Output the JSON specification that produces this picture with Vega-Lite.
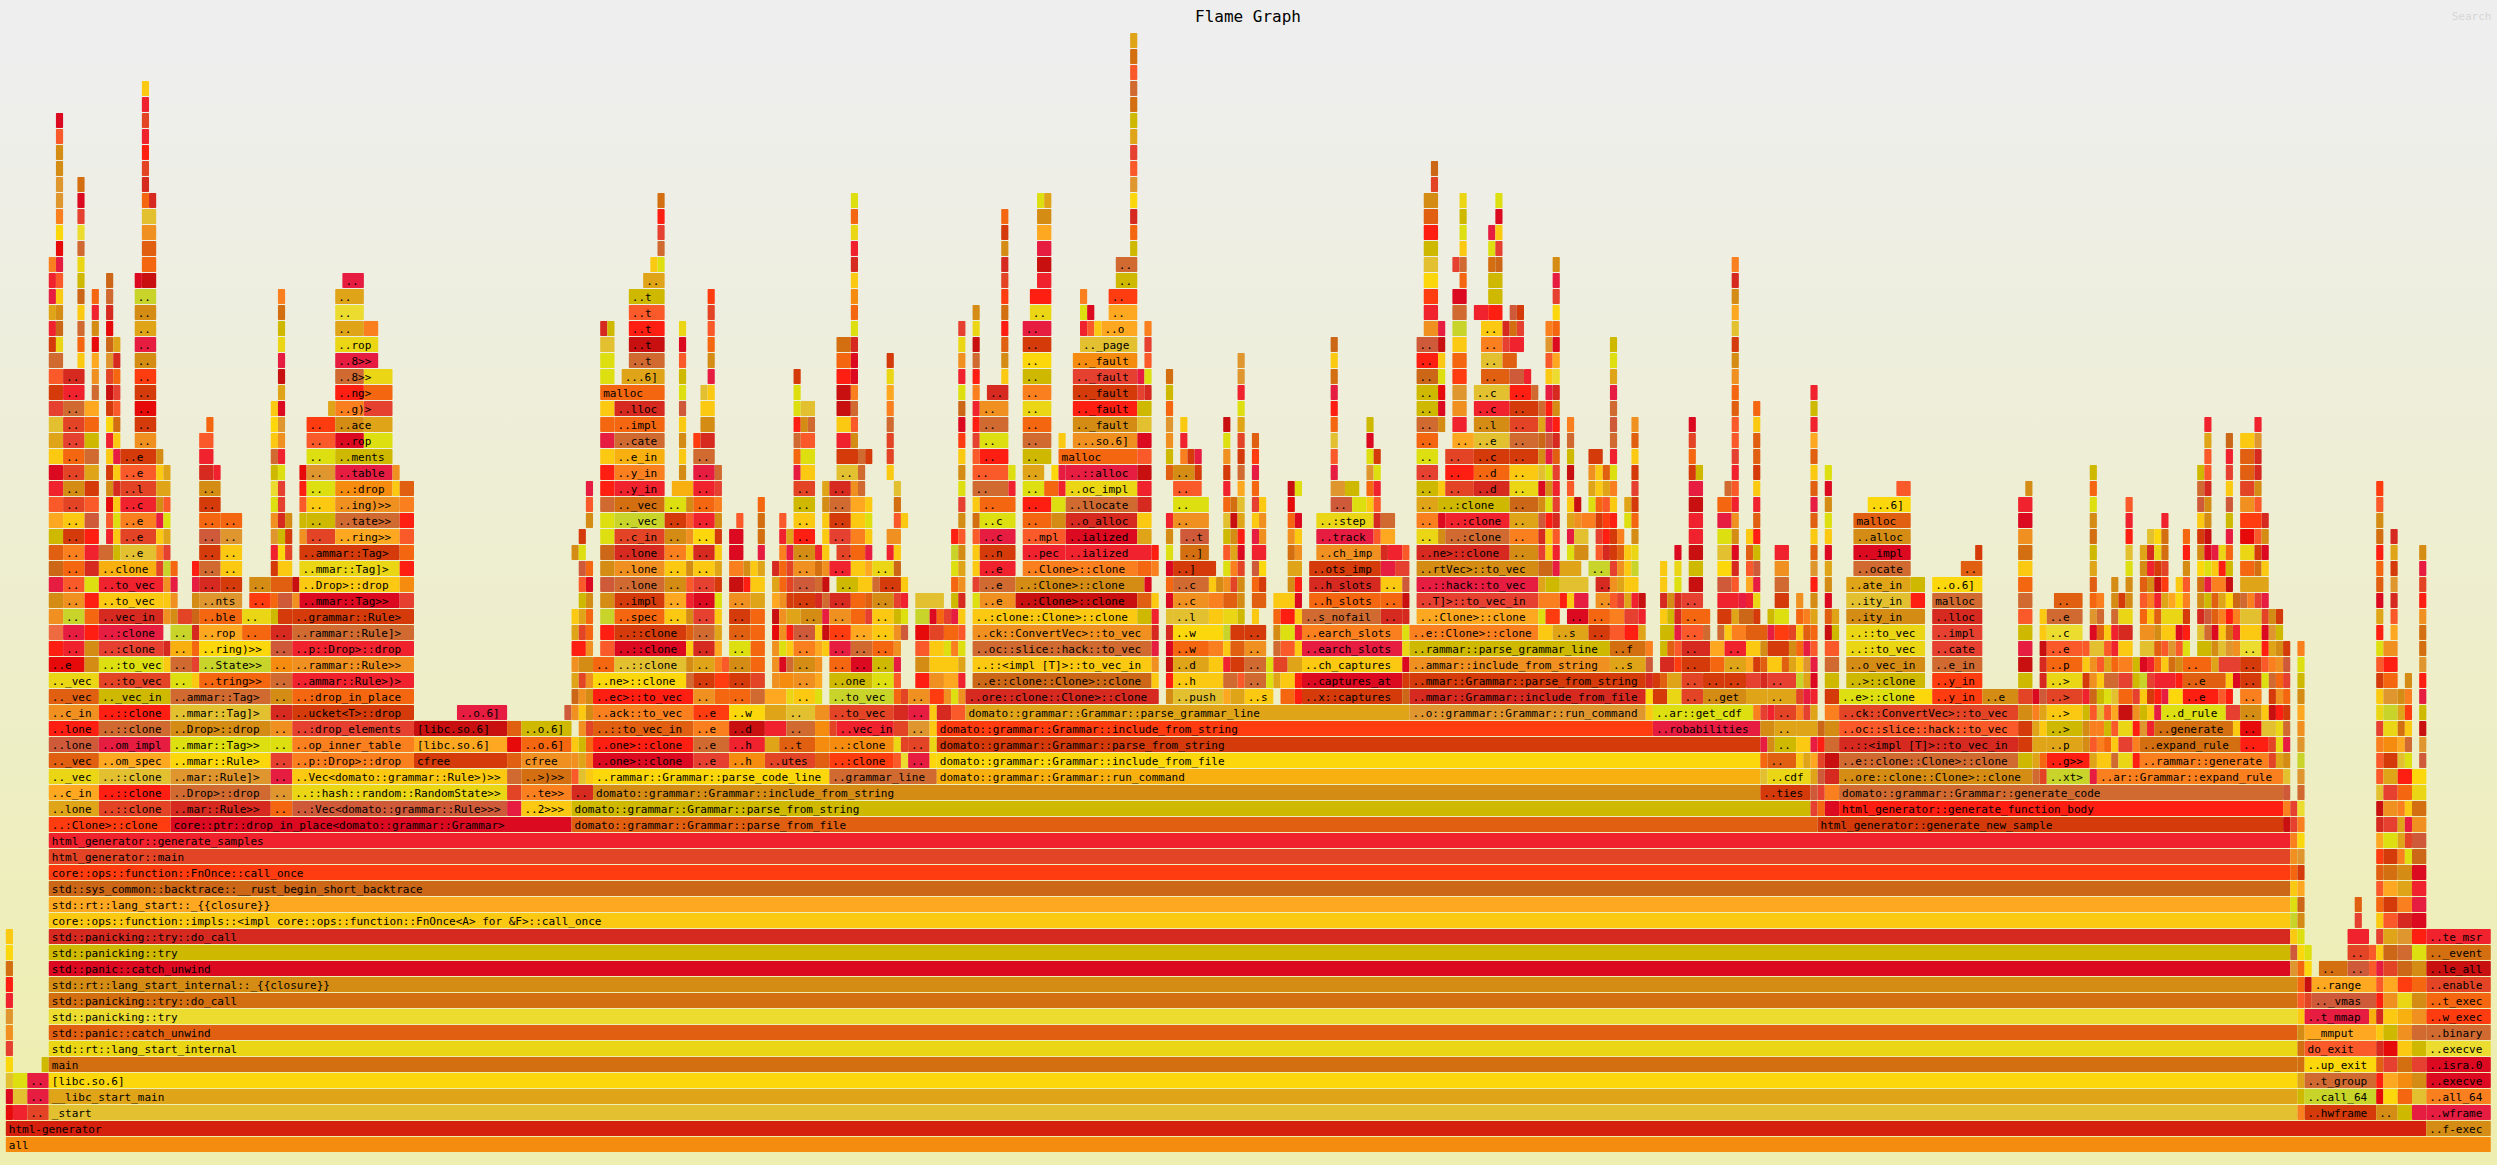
{"$schema":"https://vega.github.io/schema/vega-lite/v6.json","width":2497,"height":1165,"autosize":{"type":"fit","contains":"padding"},"padding":0,"background":"#eeeeee","config":{"view":{"stroke":null}},
"datasets":{"frames":[
{"l":0,"a":0,"b":347,"k":"A","n":"all"},{"l":1,"a":0,"b":338,"k":"B","n":"html-generator"},{"l":1,"a":338,"b":347,"k":"L","n":"..f-exec"},
{"l":2,"a":0,"b":1,"k":"g"},{"l":2,"a":1,"b":3,"k":"T"},{"l":2,"a":3,"b":6,"k":"S","n":".."},{"l":2,"a":6,"b":320,"k":"C","n":"_start"},{"l":2,"a":320,"b":321,"k":"W"},{"l":2,"a":321,"b":331,"k":"U","n":"..hwframe"},{"l":2,"a":331,"b":334,"k":"L","n":".."},{"l":2,"a":334,"b":336,"k":"K"},{"l":2,"a":336,"b":338,"k":"b"},{"l":2,"a":338,"b":347,"k":"b","n":"..wframe"},
{"l":3,"a":0,"b":1,"k":"M"},{"l":3,"a":1,"b":3,"k":"C"},{"l":3,"a":3,"b":6,"k":"b","n":".."},{"l":3,"a":6,"b":320,"k":"E","n":"__libc_start_main"},{"l":3,"a":320,"b":321,"k":"K"},{"l":3,"a":321,"b":331,"k":"c","n":"..call_64"},{"l":3,"a":331,"b":332,"k":"g"},{"l":3,"a":332,"b":334,"k":"F"},{"l":3,"a":334,"b":336,"k":"f"},{"l":3,"a":336,"b":338,"k":"C"},{"l":3,"a":338,"b":347,"k":"W","n":"..all_64"},
{"l":4,"a":0,"b":1,"k":"C"},{"l":4,"a":1,"b":3,"k":"X"},{"l":4,"a":3,"b":6,"k":"b","n":".."},{"l":4,"a":6,"b":320,"k":"F","n":"[libc.so.6]"},{"l":4,"a":320,"b":321,"k":"E"},{"l":4,"a":321,"b":331,"k":"d","n":"..t_group"},{"l":4,"a":331,"b":332,"k":"V"},{"l":4,"a":332,"b":334,"k":"P"},{"l":4,"a":334,"b":336,"k":"A"},{"l":4,"a":336,"b":338,"k":"L"},{"l":4,"a":338,"b":347,"k":"M","n":"..execve"},
{"l":5,"a":0,"b":1,"k":"F"},{"l":5,"a":5,"b":6,"k":"K"},{"l":5,"a":6,"b":320,"k":"G","n":"main"},{"l":5,"a":320,"b":321,"k":"G"},{"l":5,"a":321,"b":331,"k":"F","n":"..up_exit"},{"l":5,"a":331,"b":332,"k":"I"},{"l":5,"a":332,"b":334,"k":"Z"},{"l":5,"a":334,"b":336,"k":"G"},{"l":5,"a":336,"b":338,"k":"Z"},{"l":5,"a":338,"b":347,"k":"M","n":"..isra.0"},
{"l":6,"a":0,"b":1,"k":"Z"},{"l":6,"a":6,"b":320,"k":"H","n":"std::rt::lang_start_internal"},{"l":6,"a":320,"b":321,"k":"G"},{"l":6,"a":321,"b":331,"k":"Y","n":"do_exit"},{"l":6,"a":331,"b":332,"k":"N"},{"l":6,"a":332,"b":334,"k":"g"},{"l":6,"a":334,"b":336,"k":"O"},{"l":6,"a":336,"b":338,"k":"K"},{"l":6,"a":338,"b":347,"k":"J","n":"..execve"},
{"l":7,"a":0,"b":1,"k":"e"},{"l":7,"a":6,"b":320,"k":"I","n":"std::panic::catch_unwind"},{"l":7,"a":320,"b":321,"k":"L"},{"l":7,"a":321,"b":331,"k":"P","n":"__mmput"},{"l":7,"a":331,"b":332,"k":"O"},{"l":7,"a":332,"b":334,"k":"K"},{"l":7,"a":334,"b":336,"k":"e"},{"l":7,"a":336,"b":338,"k":"d"},{"l":7,"a":338,"b":347,"k":"d","n":"..binary"},
{"l":8,"a":0,"b":1,"k":"m"},{"l":8,"a":6,"b":320,"k":"J","n":"std::panicking::try"},{"l":8,"a":320,"b":321,"k":"O"},{"l":8,"a":321,"b":330,"k":"b","n":"..t_mmap"},{"l":8,"a":330,"b":331,"k":"i"},{"l":8,"a":331,"b":332,"k":"N"},{"l":8,"a":332,"b":334,"k":"O"},{"l":8,"a":334,"b":336,"k":"i"},{"l":8,"a":336,"b":338,"k":"e"},{"l":8,"a":338,"b":347,"k":"R","n":"..w_exec"},
{"l":9,"a":0,"b":1,"k":"T"},{"l":9,"a":6,"b":320,"k":"G","n":"std::panicking::try::do_call"},{"l":9,"a":320,"b":321,"k":"Y"},{"l":9,"a":321,"b":322,"k":"S"},{"l":9,"a":322,"b":331,"k":"a","n":".._vmas"},{"l":9,"a":331,"b":332,"k":"V"},{"l":9,"a":332,"b":334,"k":"e"},{"l":9,"a":334,"b":336,"k":"H"},{"l":9,"a":336,"b":338,"k":"L"},{"l":9,"a":338,"b":347,"k":"f","n":"..t_exec"},
{"l":10,"a":0,"b":1,"k":"V"},{"l":10,"a":6,"b":320,"k":"L","n":"std::rt::lang_start_internal::_{{closure}}"},{"l":10,"a":320,"b":321,"k":"f"},{"l":10,"a":321,"b":322,"k":"h"},{"l":10,"a":322,"b":331,"k":"P","n":"..range"},{"l":10,"a":331,"b":332,"k":"Y"},{"l":10,"a":332,"b":334,"k":"P"},{"l":10,"a":334,"b":336,"k":"R"},{"l":10,"a":336,"b":338,"k":"f"},{"l":10,"a":338,"b":347,"k":"S","n":"..enable"},
{"l":11,"a":0,"b":1,"k":"G"},{"l":11,"a":6,"b":319,"k":"M","n":"std::panic::catch_unwind"},{"l":11,"a":319,"b":320,"k":"m"},{"l":11,"a":320,"b":321,"k":"f"},{"l":11,"a":321,"b":322,"k":"F"},{"l":11,"a":323,"b":327,"k":"G","n":".."},{"l":11,"a":327,"b":330,"k":"a","n":".."},{"l":11,"a":330,"b":331,"k":"Y"},{"l":11,"a":331,"b":332,"k":"b"},{"l":11,"a":332,"b":334,"k":"S"},{"l":11,"a":334,"b":336,"k":"Q"},{"l":11,"a":336,"b":338,"k":"L"},{"l":11,"a":338,"b":347,"k":"h","n":"..le_all"},
{"l":12,"a":0,"b":1,"k":"F"},{"l":12,"a":6,"b":319,"k":"K","n":"std::panicking::try"},{"l":12,"a":319,"b":320,"k":"a"},{"l":12,"a":320,"b":321,"k":"F"},{"l":12,"a":321,"b":322,"k":"X"},{"l":12,"a":327,"b":330,"k":"S","n":".."},{"l":12,"a":330,"b":331,"k":"Y"},{"l":12,"a":331,"b":332,"k":"O"},{"l":12,"a":332,"b":334,"k":"Q"},{"l":12,"a":334,"b":336,"k":"d"},{"l":12,"a":336,"b":338,"k":"X"},{"l":12,"a":338,"b":347,"k":"G","n":".._event"},
{"l":13,"a":0,"b":1,"k":"O"},{"l":13,"a":6,"b":319,"k":"N","n":"std::panicking::try::do_call"},{"l":13,"a":319,"b":320,"k":"O"},{"l":13,"a":320,"b":321,"k":"X"},{"l":13,"a":327,"b":330,"k":"T"},{"l":13,"a":331,"b":332,"k":"Z"},{"l":13,"a":332,"b":334,"k":"E"},{"l":13,"a":334,"b":336,"k":"m"},{"l":13,"a":336,"b":338,"k":"V"},{"l":13,"a":338,"b":347,"k":"T","n":"..te_msr"},
{"l":14,"a":6,"b":319,"k":"O","n":"core::ops::function::impls::<impl core::ops::function::FnOnce<A> for &F>::call_once"},{"l":14,"a":319,"b":320,"k":"c"},{"l":14,"a":320,"b":321,"k":"L"},{"l":14,"a":328,"b":329,"k":"Z"},{"l":14,"a":331,"b":332,"k":"O"},{"l":14,"a":332,"b":334,"k":"Y"},{"l":14,"a":334,"b":336,"k":"N"},{"l":14,"a":336,"b":338,"k":"M"},
{"l":15,"a":6,"b":319,"k":"P","n":"std::rt::lang_start::_{{closure}}"},{"l":15,"a":319,"b":320,"k":"X"},{"l":15,"a":320,"b":321,"k":"Q"},{"l":15,"a":328,"b":329,"k":"I"},{"l":15,"a":331,"b":332,"k":"f"},{"l":15,"a":332,"b":334,"k":"U"},{"l":15,"a":334,"b":336,"k":"W"},{"l":15,"a":336,"b":338,"k":"b"},
{"l":16,"a":6,"b":319,"k":"Q","n":"std::sys_common::backtrace::__rust_begin_short_backtrace"},{"l":16,"a":319,"b":320,"k":"O"},{"l":16,"a":320,"b":321,"k":"P"},{"l":16,"a":331,"b":332,"k":"Y"},{"l":16,"a":332,"b":334,"k":"P"},{"l":16,"a":334,"b":336,"k":"E"},{"l":16,"a":336,"b":338,"k":"T"},
{"l":17,"a":6,"b":319,"k":"R","n":"core::ops::function::FnOnce::call_once"},{"l":17,"a":319,"b":320,"k":"f"},{"l":17,"a":320,"b":321,"k":"U"},{"l":17,"a":331,"b":332,"k":"I"},{"l":17,"a":332,"b":334,"k":"G"},{"l":17,"a":334,"b":336,"k":"L"},{"l":17,"a":336,"b":338,"k":"M"},
{"l":18,"a":6,"b":319,"k":"S","n":"html_generator::main"},{"l":18,"a":319,"b":320,"k":"e"},{"l":18,"a":320,"b":321,"k":"m"},{"l":18,"a":331,"b":332,"k":"R"},{"l":18,"a":332,"b":334,"k":"U"},{"l":18,"a":334,"b":335,"k":"W"},{"l":18,"a":335,"b":336,"k":"X"},{"l":18,"a":336,"b":338,"k":"Q"},
{"l":19,"a":6,"b":319,"k":"T","n":"html_generator::generate_samples"},{"l":19,"a":319,"b":320,"k":"W"},{"l":19,"a":320,"b":321,"k":"F"},{"l":19,"a":331,"b":332,"k":"P"},{"l":19,"a":332,"b":334,"k":"X"},{"l":19,"a":334,"b":335,"k":"E"},{"l":19,"a":335,"b":336,"k":"S"},{"l":19,"a":336,"b":338,"k":"a"},
{"l":20,"a":6,"b":23,"k":"R","n":"..:Clone>::clone"},{"l":20,"a":23,"b":79,"k":"M","n":"core::ptr::drop_in_place<domato::grammar::Grammar>"},{"l":20,"a":79,"b":253,"k":"I","n":"domato::grammar::Grammar::parse_from_file"},{"l":20,"a":253,"b":318,"k":"U","n":"html_generator::generate_new_sample"},{"l":20,"a":318,"b":319,"k":"h"},{"l":20,"a":319,"b":320,"k":"Z"},{"l":20,"a":320,"b":321,"k":"W"},{"l":20,"a":331,"b":332,"k":"N"},{"l":20,"a":332,"b":334,"k":"Z"},{"l":20,"a":334,"b":335,"k":"E"},{"l":20,"a":335,"b":336,"k":"b"},{"l":20,"a":336,"b":338,"k":"e"},
{"l":21,"a":6,"b":13,"k":"E","n":"..lone"},{"l":21,"a":13,"b":23,"k":"S","n":"..::clone"},{"l":21,"a":23,"b":37,"k":"N","n":"..mar::Rule>>"},{"l":21,"a":37,"b":40,"k":"f","n":".."},{"l":21,"a":40,"b":70,"k":"a","n":"..:Vec<domato::grammar::Rule>>>"},{"l":21,"a":70,"b":72,"k":"b"},{"l":21,"a":72,"b":79,"k":"O","n":"..2>>>"},{"l":21,"a":79,"b":252,"k":"K","n":"domato::grammar::Grammar::parse_from_string"},{"l":21,"a":252,"b":253,"k":"Z"},{"l":21,"a":253,"b":254,"k":"f"},{"l":21,"a":254,"b":256,"k":"M"},{"l":21,"a":256,"b":318,"k":"V","n":"html_generator::generate_function_body"},{"l":21,"a":318,"b":319,"k":"W"},{"l":21,"a":319,"b":320,"k":"Z"},{"l":21,"a":320,"b":321,"k":"J"},{"l":21,"a":331,"b":332,"k":"h"},{"l":21,"a":332,"b":334,"k":"e"},{"l":21,"a":334,"b":335,"k":"W"},{"l":21,"a":335,"b":336,"k":"O"},{"l":21,"a":336,"b":338,"k":"G"},
{"l":22,"a":6,"b":13,"k":"P","n":"..c_in"},{"l":22,"a":13,"b":23,"k":"V","n":"..::clone"},{"l":22,"a":23,"b":37,"k":"d","n":"..Drop>::drop"},{"l":22,"a":37,"b":40,"k":"m","n":".."},{"l":22,"a":40,"b":70,"k":"H","n":"..::hash::random::RandomState>>"},{"l":22,"a":70,"b":72,"k":"S"},{"l":22,"a":72,"b":79,"k":"W","n":"..te>>"},{"l":22,"a":79,"b":82,"k":"N","n":".."},{"l":22,"a":82,"b":245,"k":"L","n":"domato::grammar::Grammar::include_from_string"},{"l":22,"a":245,"b":252,"k":"U","n":"..ties"},{"l":22,"a":252,"b":253,"k":"a"},{"l":22,"a":253,"b":254,"k":"Z"},{"l":22,"a":254,"b":256,"k":"W"},{"l":22,"a":256,"b":318,"k":"d","n":"domato::grammar::Grammar::generate_code"},{"l":22,"a":318,"b":319,"k":"a"},{"l":22,"a":320,"b":321,"k":"d"},{"l":22,"a":331,"b":332,"k":"C"},{"l":22,"a":332,"b":334,"k":"Z"},{"l":22,"a":334,"b":336,"k":"f"},{"l":22,"a":336,"b":338,"k":"H"},
{"l":23,"a":6,"b":13,"k":"H","n":".._vec"},{"l":23,"a":13,"b":23,"k":"C","n":"..::clone"},{"l":23,"a":23,"b":37,"k":"m","n":"..mar::Rule]>"},{"l":23,"a":37,"b":40,"k":"b","n":".."},{"l":23,"a":40,"b":70,"k":"O","n":"..Vec<domato::grammar::Rule>)>>"},{"l":23,"a":70,"b":72,"k":"d"},{"l":23,"a":72,"b":79,"k":"G","n":"..>)>>"},{"l":23,"a":79,"b":80,"k":"Y"},{"l":23,"a":80,"b":81,"k":"C"},{"l":23,"a":81,"b":82,"k":"O"},{"l":23,"a":82,"b":115,"k":"F","n":"..rammar::Grammar::parse_code_line"},{"l":23,"a":115,"b":130,"k":"d","n":"..grammar_line"},{"l":23,"a":130,"b":245,"k":"i","n":"domato::grammar::Grammar::run_command"},{"l":23,"a":245,"b":246,"k":"C"},{"l":23,"a":246,"b":252,"k":"H","n":"..cdf"},{"l":23,"a":252,"b":253,"k":"E"},{"l":23,"a":253,"b":254,"k":"a"},{"l":23,"a":254,"b":256,"k":"N"},{"l":23,"a":256,"b":283,"k":"L","n":"..ore::clone::Clone>::clone"},{"l":23,"a":283,"b":284,"k":"d"},{"l":23,"a":284,"b":285,"k":"S"},{"l":23,"a":285,"b":291,"k":"c","n":"..xt>"},{"l":23,"a":291,"b":292,"k":"b"},{"l":23,"a":292,"b":318,"k":"W","n":"..ar::Grammar::expand_rule"},{"l":23,"a":318,"b":319,"k":"C"},{"l":23,"a":320,"b":321,"k":"m"},{"l":23,"a":331,"b":332,"k":"Y"},{"l":23,"a":332,"b":334,"k":"E"},{"l":23,"a":334,"b":336,"k":"V"},{"l":23,"a":336,"b":338,"k":"F"},
{"l":24,"a":6,"b":13,"k":"I","n":".._vec"},{"l":24,"a":13,"b":23,"k":"P","n":"..om_spec"},{"l":24,"a":23,"b":37,"k":"F","n":"..mmar::Rule>"},{"l":24,"a":37,"b":40,"k":"Z","n":".."},{"l":24,"a":40,"b":57,"k":"W","n":"..p::Drop>::drop"},{"l":24,"a":57,"b":70,"k":"U","n":"cfree"},{"l":24,"a":70,"b":72,"k":"I"},{"l":24,"a":72,"b":79,"k":"e","n":"cfree"},{"l":24,"a":79,"b":80,"k":"e"},{"l":24,"a":80,"b":81,"k":"E"},{"l":24,"a":81,"b":82,"k":"W"},{"l":24,"a":82,"b":96,"k":"M","n":"..one>::clone"},{"l":24,"a":96,"b":101,"k":"Z","n":"..e"},{"l":24,"a":101,"b":106,"k":"A","n":"..h"},{"l":24,"a":106,"b":113,"k":"S","n":"..utes"},{"l":24,"a":113,"b":115,"k":"I"},{"l":24,"a":115,"b":124,"k":"R","n":"..:clone"},{"l":24,"a":124,"b":125,"k":"Y"},{"l":24,"a":125,"b":126,"k":"J"},{"l":24,"a":126,"b":129,"k":"b","n":".."},{"l":24,"a":129,"b":130,"k":"F"},{"l":24,"a":130,"b":245,"k":"F","n":"domato::grammar::Grammar::include_from_file"},{"l":24,"a":245,"b":246,"k":"f"},{"l":24,"a":246,"b":250,"k":"I","n":".."},{"l":24,"a":250,"b":251,"k":"O"},{"l":24,"a":251,"b":252,"k":"E"},{"l":24,"a":252,"b":253,"k":"P"},{"l":24,"a":253,"b":254,"k":"S"},{"l":24,"a":254,"b":256,"k":"h"},{"l":24,"a":256,"b":281,"k":"d","n":"..e::clone::Clone>::clone"},{"l":24,"a":281,"b":283,"k":"K"},{"l":24,"a":283,"b":284,"k":"E"},{"l":24,"a":284,"b":285,"k":"f"},{"l":24,"a":285,"b":291,"k":"V","n":"..g>>"},{"l":24,"a":291,"b":292,"k":"E"},{"l":24,"a":292,"b":294,"k":"O"},{"l":24,"a":294,"b":295,"k":"d"},{"l":24,"a":295,"b":297,"k":"H"},{"l":24,"a":297,"b":298,"k":"V"},{"l":24,"a":298,"b":316,"k":"W","n":"..rammar::generate"},{"l":24,"a":316,"b":317,"k":"S"},{"l":24,"a":317,"b":318,"k":"E"},{"l":24,"a":318,"b":319,"k":"L"},{"l":24,"a":320,"b":321,"k":"c"},{"l":24,"a":331,"b":332,"k":"Y"},{"l":24,"a":332,"b":334,"k":"U"},{"l":24,"a":334,"b":335,"k":"C"},{"l":24,"a":335,"b":336,"k":"X"},{"l":24,"a":337,"b":338,"k":"a"},
{"l":25,"a":6,"b":13,"k":"a","n":"..lone"},{"l":25,"a":13,"b":23,"k":"b","n":"..om_impl"},{"l":25,"a":23,"b":37,"k":"X","n":"..mmar::Tag>>"},{"l":25,"a":37,"b":40,"k":"X","n":".."},{"l":25,"a":40,"b":57,"k":"W","n":"..op_inner_table"},{"l":25,"a":57,"b":70,"k":"P","n":"[libc.so.6]"},{"l":25,"a":70,"b":72,"k":"g"},{"l":25,"a":72,"b":79,"k":"f","n":"..o.6]"},{"l":25,"a":79,"b":80,"k":"O"},{"l":25,"a":80,"b":81,"k":"K"},{"l":25,"a":81,"b":82,"k":"f"},{"l":25,"a":82,"b":96,"k":"V","n":"..one>::clone"},{"l":25,"a":96,"b":101,"k":"d","n":"..e"},{"l":25,"a":101,"b":106,"k":"T","n":"..h"},{"l":25,"a":106,"b":108,"k":"E"},{"l":25,"a":108,"b":113,"k":"I","n":"..t"},{"l":25,"a":113,"b":115,"k":"A"},{"l":25,"a":115,"b":124,"k":"A","n":"..:clone"},{"l":25,"a":124,"b":125,"k":"H"},{"l":25,"a":125,"b":126,"k":"S"},{"l":25,"a":126,"b":129,"k":"S","n":".."},{"l":25,"a":129,"b":130,"k":"H"},{"l":25,"a":130,"b":245,"k":"U","n":"domato::grammar::Grammar::parse_from_string"},{"l":25,"a":245,"b":246,"k":"b"},{"l":25,"a":247,"b":250,"k":"K","n":".."},{"l":25,"a":246,"b":247,"k":"L"},{"l":25,"a":250,"b":252,"k":"O"},{"l":25,"a":252,"b":253,"k":"b"},{"l":25,"a":253,"b":254,"k":"V"},{"l":25,"a":254,"b":256,"k":"d"},{"l":25,"a":256,"b":281,"k":"N","n":"..::<impl [T]>::to_vec_in"},{"l":25,"a":281,"b":283,"k":"U"},{"l":25,"a":283,"b":285,"k":"E"},{"l":25,"a":285,"b":290,"k":"E","n":"..p"},{"l":25,"a":290,"b":291,"k":"L"},{"l":25,"a":291,"b":292,"k":"Y"},{"l":25,"a":292,"b":293,"k":"W"},{"l":25,"a":293,"b":294,"k":"f"},{"l":25,"a":294,"b":295,"k":"O"},{"l":25,"a":295,"b":297,"k":"Z"},{"l":25,"a":297,"b":298,"k":"W"},{"l":25,"a":298,"b":312,"k":"G","n":"..expand_rule"},{"l":25,"a":312,"b":316,"k":"V","n":".."},{"l":25,"a":316,"b":317,"k":"S"},{"l":25,"a":317,"b":318,"k":"H"},{"l":25,"a":318,"b":319,"k":"b"},{"l":25,"a":320,"b":321,"k":"m"},{"l":25,"a":331,"b":332,"k":"W"},{"l":25,"a":332,"b":334,"k":"A"},{"l":25,"a":334,"b":335,"k":"P"},{"l":25,"a":335,"b":336,"k":"d"},{"l":25,"a":337,"b":338,"k":"m"},
{"l":26,"a":6,"b":13,"k":"V","n":"..lone"},{"l":26,"a":13,"b":23,"k":"d","n":"..::clone"},{"l":26,"a":23,"b":37,"k":"L","n":"..Drop>::drop"},{"l":26,"a":37,"b":40,"k":"e","n":".."},{"l":26,"a":40,"b":57,"k":"Z","n":"..:drop_elements"},{"l":26,"a":57,"b":70,"k":"h","n":"[libc.so.6]"},{"l":26,"a":70,"b":72,"k":"I"},{"l":26,"a":72,"b":79,"k":"K","n":"..o.6]"},{"l":26,"a":80,"b":81,"k":"e"},{"l":26,"a":81,"b":82,"k":"S"},{"l":26,"a":82,"b":96,"k":"I","n":"..::to_vec_in"},{"l":26,"a":96,"b":101,"k":"W","n":"..e"},{"l":26,"a":101,"b":106,"k":"h","n":"..d"},{"l":26,"a":106,"b":109,"k":"T"},{"l":26,"a":109,"b":113,"k":"d","n":".."},{"l":26,"a":113,"b":115,"k":"A"},{"l":26,"a":115,"b":116,"k":"S"},{"l":26,"a":116,"b":124,"k":"T","n":"..vec_in"},{"l":26,"a":124,"b":126,"k":"S"},{"l":26,"a":126,"b":129,"k":"m","n":".."},{"l":26,"a":129,"b":130,"k":"O"},{"l":26,"a":130,"b":230,"k":"R","n":"domato::grammar::Grammar::include_from_string"},{"l":26,"a":230,"b":245,"k":"b","n":"..robabilities"},{"l":26,"a":245,"b":247,"k":"L"},{"l":26,"a":247,"b":250,"k":"E","n":".."},{"l":26,"a":250,"b":253,"k":"E"},{"l":26,"a":253,"b":254,"k":"Q"},{"l":26,"a":254,"b":256,"k":"L"},{"l":26,"a":256,"b":281,"k":"Y","n":"..oc::slice::hack::to_vec"},{"l":26,"a":281,"b":283,"k":"U"},{"l":26,"a":283,"b":284,"k":"E"},{"l":26,"a":284,"b":285,"k":"O"},{"l":26,"a":285,"b":290,"k":"K","n":"..>"},{"l":26,"a":290,"b":291,"k":"L"},{"l":26,"a":291,"b":292,"k":"W"},{"l":26,"a":292,"b":293,"k":"W"},{"l":26,"a":293,"b":294,"k":"K"},{"l":26,"a":294,"b":295,"k":"Y"},{"l":26,"a":295,"b":297,"k":"H"},{"l":26,"a":297,"b":298,"k":"V"},{"l":26,"a":298,"b":299,"k":"m"},{"l":26,"a":299,"b":300,"k":"T"},{"l":26,"a":300,"b":311,"k":"G","n":"..generate"},{"l":26,"a":311,"b":312,"k":"O"},{"l":26,"a":312,"b":315,"k":"g","n":".."},{"l":26,"a":315,"b":317,"k":"C"},{"l":26,"a":317,"b":318,"k":"H"},{"l":26,"a":318,"b":319,"k":"d"},{"l":26,"a":320,"b":321,"k":"e"},{"l":26,"a":331,"b":332,"k":"Z"},{"l":26,"a":332,"b":334,"k":"H"},{"l":26,"a":334,"b":335,"k":"G"},{"l":26,"a":335,"b":336,"k":"O"},{"l":26,"a":337,"b":338,"k":"h"},
{"l":27,"a":6,"b":13,"k":"e","n":"..c_in"},{"l":27,"a":13,"b":23,"k":"V","n":"..::clone"},{"l":27,"a":23,"b":37,"k":"C","n":"..mmar::Tag]>"},{"l":27,"a":37,"b":40,"k":"N","n":".."},{"l":27,"a":40,"b":57,"k":"U","n":"..ucket<T>::drop"},{"l":27,"a":63,"b":70,"k":"b","n":"..o.6]"},{"l":27,"a":78,"b":79,"k":"a"},{"l":27,"a":79,"b":80,"k":"e"},{"l":27,"a":80,"b":81,"k":"O"},{"l":27,"a":81,"b":82,"k":"L"},{"l":27,"a":82,"b":96,"k":"W","n":"..ack::to_vec"},{"l":27,"a":96,"b":101,"k":"R","n":"..e"},{"l":27,"a":101,"b":106,"k":"F","n":"..w"},{"l":27,"a":106,"b":109,"k":"E"},{"l":27,"a":109,"b":113,"k":"C","n":".."},{"l":27,"a":113,"b":115,"k":"e"},{"l":27,"a":115,"b":124,"k":"S","n":"..to_vec"},{"l":27,"a":124,"b":126,"k":"N"},{"l":27,"a":126,"b":129,"k":"b","n":".."},{"l":27,"a":129,"b":130,"k":"O"},{"l":27,"a":130,"b":132,"k":"N"},{"l":27,"a":132,"b":134,"k":"Y"},{"l":27,"a":134,"b":196,"k":"E","n":"domato::grammar::Grammar::parse_grammar_line"},{"l":27,"a":196,"b":229,"k":"m","n":"..o::grammar::Grammar::run_command"},{"l":27,"a":229,"b":230,"k":"O"},{"l":27,"a":230,"b":244,"k":"X","n":"..ar::get_cdf"},{"l":27,"a":244,"b":245,"k":"W"},{"l":27,"a":245,"b":246,"k":"Z"},{"l":27,"a":246,"b":247,"k":"T"},{"l":27,"a":247,"b":250,"k":"S","n":".."},{"l":27,"a":250,"b":251,"k":"W"},{"l":27,"a":251,"b":252,"k":"Z"},{"l":27,"a":252,"b":253,"k":"E"},{"l":27,"a":254,"b":256,"k":"W"},{"l":27,"a":256,"b":281,"k":"S","n":"..ck::ConvertVec>::to_vec"},{"l":27,"a":281,"b":283,"k":"L"},{"l":27,"a":283,"b":284,"k":"W"},{"l":27,"a":284,"b":285,"k":"E"},{"l":27,"a":285,"b":290,"k":"O","n":"..>"},{"l":27,"a":290,"b":291,"k":"K"},{"l":27,"a":291,"b":292,"k":"Y"},{"l":27,"a":292,"b":293,"k":"C"},{"l":27,"a":293,"b":294,"k":"Y"},{"l":27,"a":294,"b":295,"k":"P"},{"l":27,"a":295,"b":297,"k":"h"},{"l":27,"a":297,"b":298,"k":"e"},{"l":27,"a":298,"b":299,"k":"K"},{"l":27,"a":299,"b":300,"k":"O"},{"l":27,"a":300,"b":301,"k":"b"},{"l":27,"a":301,"b":310,"k":"X","n":"..d_rule"},{"l":27,"a":310,"b":312,"k":"Z"},{"l":27,"a":312,"b":315,"k":"L","n":".."},{"l":27,"a":315,"b":316,"k":"O"},{"l":27,"a":316,"b":317,"k":"h"},{"l":27,"a":317,"b":318,"k":"V"},{"l":27,"a":318,"b":319,"k":"U"},{"l":27,"a":320,"b":321,"k":"P"},{"l":27,"a":331,"b":332,"k":"H"},{"l":27,"a":332,"b":334,"k":"c"},{"l":27,"a":334,"b":335,"k":"E"},{"l":27,"a":335,"b":336,"k":"R"},{"l":27,"a":337,"b":338,"k":"K"},
{"l":28,"a":6,"b":13,"k":"I","n":".._vec"},{"l":28,"a":13,"b":23,"k":"K","n":".._vec_in"},{"l":28,"a":23,"b":37,"k":"d","n":"..ammar::Tag>"},{"l":28,"a":37,"b":40,"k":"L","n":".."},{"l":28,"a":40,"b":57,"k":"f","n":"..:drop_in_place"},{"l":28,"a":79,"b":80,"k":"Q"},{"l":28,"a":80,"b":81,"k":"e"},{"l":28,"a":81,"b":82,"k":"L"},{"l":28,"a":82,"b":96,"k":"V","n":"..ec>::to_vec"},{"l":28,"a":96,"b":99,"k":"e","n":".."},{"l":28,"a":99,"b":101,"k":"f"},{"l":28,"a":101,"b":104,"k":"f","n":".."},{"l":28,"a":104,"b":106,"k":"d"},{"l":28,"a":106,"b":109,"k":"P"},{"l":28,"a":109,"b":110,"k":"H"},{"l":28,"a":110,"b":113,"k":"O","n":".."},{"l":28,"a":113,"b":114,"k":"X"},{"l":28,"a":115,"b":124,"k":"c","n":"..to_vec"},{"l":28,"a":124,"b":125,"k":"f"},{"l":28,"a":125,"b":126,"k":"S"},{"l":28,"a":126,"b":129,"k":"e","n":".."},{"l":28,"a":129,"b":131,"k":"R"},{"l":28,"a":131,"b":132,"k":"e"},{"l":28,"a":132,"b":133,"k":"X"},{"l":28,"a":133,"b":134,"k":"e"},{"l":28,"a":134,"b":161,"k":"N","n":"..ore::clone::Clone>::clone"},{"l":28,"a":162,"b":163,"k":"L"},{"l":28,"a":163,"b":170,"k":"C","n":"..push"},{"l":28,"a":170,"b":171,"k":"P"},{"l":28,"a":171,"b":173,"k":"E"},{"l":28,"a":173,"b":177,"k":"O","n":"..s"},{"l":28,"a":178,"b":180,"k":"f"},{"l":28,"a":180,"b":181,"k":"V"},{"l":28,"a":181,"b":195,"k":"U","n":"..x::captures"},{"l":28,"a":195,"b":196,"k":"Q"},{"l":28,"a":196,"b":229,"k":"N","n":"..mmar::Grammar::include_from_file"},{"l":28,"a":229,"b":230,"k":"F"},{"l":28,"a":230,"b":232,"k":"U"},{"l":28,"a":232,"b":234,"k":"H"},{"l":28,"a":234,"b":237,"k":"S","n":".."},{"l":28,"a":237,"b":243,"k":"L","n":"..get"},{"l":28,"a":243,"b":246,"k":"E"},{"l":28,"a":246,"b":250,"k":"E","n":".."},{"l":28,"a":250,"b":251,"k":"S"},{"l":28,"a":251,"b":252,"k":"b"},{"l":28,"a":252,"b":253,"k":"T"},{"l":28,"a":254,"b":256,"k":"U"},{"l":28,"a":256,"b":266,"k":"X","n":"..e>::clone"},{"l":28,"a":266,"b":269,"k":"F"},{"l":28,"a":269,"b":276,"k":"R","n":"..y_in"},{"l":28,"a":276,"b":281,"k":"L","n":"..e"},{"l":28,"a":281,"b":283,"k":"S"},{"l":28,"a":283,"b":284,"k":"M"},{"l":28,"a":284,"b":285,"k":"a"},{"l":28,"a":285,"b":290,"k":"S","n":"..>"},{"l":28,"a":290,"b":291,"k":"T"},{"l":28,"a":291,"b":292,"k":"Q"},{"l":28,"a":292,"b":293,"k":"K"},{"l":28,"a":293,"b":294,"k":"X"},{"l":28,"a":294,"b":295,"k":"C"},{"l":28,"a":295,"b":297,"k":"f"},{"l":28,"a":297,"b":298,"k":"Z"},{"l":28,"a":298,"b":299,"k":"O"},{"l":28,"a":299,"b":300,"k":"U"},{"l":28,"a":300,"b":301,"k":"V"},{"l":28,"a":301,"b":302,"k":"b"},{"l":28,"a":302,"b":304,"k":"F"},{"l":28,"a":304,"b":309,"k":"V","n":"..e"},{"l":28,"a":309,"b":310,"k":"Y"},{"l":28,"a":310,"b":311,"k":"V"},{"l":28,"a":312,"b":315,"k":"W","n":".."},{"l":28,"a":316,"b":317,"k":"U"},{"l":28,"a":317,"b":318,"k":"e"},{"l":28,"a":318,"b":319,"k":"f"},{"l":28,"a":320,"b":321,"k":"L"},{"l":28,"a":331,"b":332,"k":"O"},{"l":28,"a":332,"b":334,"k":"m"},{"l":28,"a":334,"b":335,"k":"L"},{"l":28,"a":335,"b":336,"k":"W"},{"l":28,"a":337,"b":338,"k":"b"},
{"l":29,"a":6,"b":13,"k":"H","n":".._vec"},{"l":29,"a":13,"b":23,"k":"S","n":"..:to_vec"},{"l":29,"a":23,"b":26,"k":"X","n":".."},{"l":29,"a":26,"b":27,"k":"O"},{"l":29,"a":27,"b":37,"k":"f","n":"..tring>>"},{"l":29,"a":37,"b":40,"k":"d","n":".."},{"l":29,"a":40,"b":57,"k":"T","n":"..ammar::Rule>)>"},{"l":29,"a":79,"b":80,"k":"E"},{"l":29,"a":80,"b":81,"k":"S"},{"l":29,"a":81,"b":82,"k":"e"},{"l":29,"a":82,"b":95,"k":"F","n":"..ne>::clone"},{"l":29,"a":95,"b":96,"k":"d"},{"l":29,"a":96,"b":99,"k":"U","n":".."},{"l":29,"a":99,"b":101,"k":"R"},{"l":29,"a":101,"b":104,"k":"U","n":".."},{"l":29,"a":104,"b":106,"k":"S"},{"l":29,"a":107,"b":108,"k":"e"},{"l":29,"a":108,"b":110,"k":"A"},{"l":29,"a":110,"b":113,"k":"e","n":".."},{"l":29,"a":113,"b":114,"k":"P"},{"l":29,"a":115,"b":121,"k":"K","n":"..one"},{"l":29,"a":121,"b":124,"k":"X","n":".."},{"l":29,"a":124,"b":125,"k":"Y"},{"l":29,"a":127,"b":129,"k":"V"},{"l":29,"a":129,"b":131,"k":"e"},{"l":29,"a":131,"b":133,"k":"P"},{"l":29,"a":133,"b":134,"k":"T"},{"l":29,"a":135,"b":160,"k":"Q","n":"..e::clone::Clone>::clone"},{"l":29,"a":160,"b":161,"k":"O"},{"l":29,"a":162,"b":163,"k":"V"},{"l":29,"a":163,"b":170,"k":"O","n":"..h"},{"l":29,"a":170,"b":172,"k":"d"},{"l":29,"a":172,"b":173,"k":"Y"},{"l":29,"a":173,"b":176,"k":"d","n":".."},{"l":29,"a":176,"b":177,"k":"X"},{"l":29,"a":177,"b":178,"k":"E"},{"l":29,"a":178,"b":180,"k":"O"},{"l":29,"a":180,"b":181,"k":"V"},{"l":29,"a":181,"b":195,"k":"M","n":"..captures_at"},{"l":29,"a":195,"b":196,"k":"U"},{"l":29,"a":196,"b":229,"k":"U","n":"..mmar::Grammar::parse_from_string"},{"l":29,"a":229,"b":230,"k":"N"},{"l":29,"a":230,"b":231,"k":"U"},{"l":29,"a":231,"b":232,"k":"I"},{"l":29,"a":232,"b":234,"k":"E"},{"l":29,"a":234,"b":237,"k":"S","n":".."},{"l":29,"a":237,"b":240,"k":"U","n":".."},{"l":29,"a":240,"b":243,"k":"U","n":".."},{"l":29,"a":243,"b":245,"k":"Z"},{"l":29,"a":245,"b":246,"k":"N"},{"l":29,"a":246,"b":250,"k":"Z","n":".."},{"l":29,"a":250,"b":251,"k":"c"},{"l":29,"a":251,"b":252,"k":"E"},{"l":29,"a":252,"b":253,"k":"M"},{"l":29,"a":254,"b":256,"k":"K"},{"l":29,"a":257,"b":268,"k":"K","n":"..>::clone"},{"l":29,"a":269,"b":276,"k":"R","n":"..y_in"},{"l":29,"a":281,"b":283,"k":"K"},{"l":29,"a":284,"b":285,"k":"N"},{"l":29,"a":285,"b":290,"k":"H","n":"..>"},{"l":29,"a":290,"b":291,"k":"U"},{"l":29,"a":291,"b":292,"k":"e"},{"l":29,"a":292,"b":293,"k":"O"},{"l":29,"a":293,"b":295,"k":"d"},{"l":29,"a":295,"b":297,"k":"Z"},{"l":29,"a":297,"b":298,"k":"K"},{"l":29,"a":298,"b":299,"k":"c"},{"l":29,"a":299,"b":300,"k":"Z"},{"l":29,"a":300,"b":303,"k":"T"},{"l":29,"a":303,"b":304,"k":"V"},{"l":29,"a":304,"b":310,"k":"I","n":"..e"},{"l":29,"a":310,"b":311,"k":"O"},{"l":29,"a":311,"b":312,"k":"M"},{"l":29,"a":312,"b":315,"k":"U","n":".."},{"l":29,"a":315,"b":316,"k":"X"},{"l":29,"a":316,"b":317,"k":"d"},{"l":29,"a":317,"b":318,"k":"f"},{"l":29,"a":318,"b":319,"k":"Z"},{"l":29,"a":320,"b":321,"k":"K"},{"l":29,"a":331,"b":332,"k":"U"},{"l":29,"a":332,"b":334,"k":"f"},{"l":29,"a":335,"b":336,"k":"L"},{"l":29,"a":337,"b":338,"k":"V"},
{"l":30,"a":6,"b":11,"k":"g","n":"..e"},{"l":30,"a":11,"b":13,"k":"L"},{"l":30,"a":13,"b":22,"k":"X","n":"..:to_vec"},{"l":30,"a":22,"b":23,"k":"O"},{"l":30,"a":23,"b":26,"k":"d","n":".."},{"l":30,"a":26,"b":27,"k":"Z"},{"l":30,"a":27,"b":37,"k":"c","n":"..State>>"},{"l":30,"a":37,"b":40,"k":"A","n":".."},{"l":30,"a":40,"b":57,"k":"e","n":"..rammar::Rule>>"},{"l":30,"a":79,"b":80,"k":"e"},{"l":30,"a":80,"b":82,"k":"L"},{"l":30,"a":82,"b":85,"k":"f","n":".."},{"l":30,"a":85,"b":95,"k":"C","n":"..::clone"},{"l":30,"a":95,"b":96,"k":"L"},{"l":30,"a":96,"b":99,"k":"E","n":".."},{"l":30,"a":99,"b":100,"k":"W"},{"l":30,"a":100,"b":101,"k":"Y"},{"l":30,"a":101,"b":104,"k":"L","n":".."},{"l":30,"a":104,"b":106,"k":"f"},{"l":30,"a":107,"b":108,"k":"e"},{"l":30,"a":108,"b":109,"k":"M"},{"l":30,"a":109,"b":110,"k":"d"},{"l":30,"a":110,"b":113,"k":"L","n":".."},{"l":30,"a":113,"b":114,"k":"e"},{"l":30,"a":115,"b":118,"k":"f","n":".."},{"l":30,"a":118,"b":121,"k":"M","n":".."},{"l":30,"a":121,"b":124,"k":"K","n":".."},{"l":30,"a":124,"b":125,"k":"b"},{"l":30,"a":127,"b":129,"k":"L"},{"l":30,"a":129,"b":133,"k":"O"},{"l":30,"a":133,"b":134,"k":"E"},{"l":30,"a":135,"b":160,"k":"O","n":"..::<impl [T]>::to_vec_in"},{"l":30,"a":160,"b":161,"k":"e"},{"l":30,"a":162,"b":163,"k":"h"},{"l":30,"a":163,"b":168,"k":"E","n":"..d"},{"l":30,"a":168,"b":170,"k":"O"},{"l":30,"a":170,"b":171,"k":"T"},{"l":30,"a":171,"b":173,"k":"U"},{"l":30,"a":173,"b":176,"k":"d","n":".."},{"l":30,"a":176,"b":177,"k":"X"},{"l":30,"a":177,"b":179,"k":"S"},{"l":30,"a":179,"b":181,"k":"E"},{"l":30,"a":181,"b":195,"k":"O","n":"..ch_captures"},{"l":30,"a":195,"b":196,"k":"M"},{"l":30,"a":196,"b":224,"k":"e","n":"..ammar::include_from_string"},{"l":30,"a":224,"b":229,"k":"E","n":"..s"},{"l":30,"a":229,"b":230,"k":"a"},{"l":30,"a":231,"b":233,"k":"N"},{"l":30,"a":233,"b":234,"k":"R"},{"l":30,"a":234,"b":238,"k":"U","n":".."},{"l":30,"a":238,"b":240,"k":"f"},{"l":30,"a":240,"b":243,"k":"E","n":".."},{"l":30,"a":243,"b":244,"k":"P"},{"l":30,"a":244,"b":245,"k":"U"},{"l":30,"a":245,"b":246,"k":"I"},{"l":30,"a":246,"b":248,"k":"O"},{"l":30,"a":248,"b":249,"k":"I"},{"l":30,"a":249,"b":250,"k":"E"},{"l":30,"a":250,"b":251,"k":"O"},{"l":30,"a":251,"b":252,"k":"m"},{"l":30,"a":252,"b":253,"k":"b"},{"l":30,"a":254,"b":256,"k":"d"},{"l":30,"a":257,"b":268,"k":"L","n":"..o_vec_in"},{"l":30,"a":269,"b":276,"k":"d","n":"..e_in"},{"l":30,"a":281,"b":283,"k":"h"},{"l":30,"a":284,"b":285,"k":"N"},{"l":30,"a":285,"b":290,"k":"f","n":"..p"},{"l":30,"a":290,"b":291,"k":"O"},{"l":30,"a":291,"b":292,"k":"e"},{"l":30,"a":292,"b":293,"k":"Y"},{"l":30,"a":293,"b":294,"k":"E"},{"l":30,"a":294,"b":295,"k":"f"},{"l":30,"a":295,"b":297,"k":"W"},{"l":30,"a":297,"b":298,"k":"K"},{"l":30,"a":298,"b":299,"k":"M"},{"l":30,"a":299,"b":300,"k":"T"},{"l":30,"a":300,"b":301,"k":"f"},{"l":30,"a":301,"b":302,"k":"O"},{"l":30,"a":302,"b":303,"k":"G"},{"l":30,"a":303,"b":304,"k":"L"},{"l":30,"a":304,"b":308,"k":"f","n":".."},{"l":30,"a":308,"b":309,"k":"E"},{"l":30,"a":309,"b":312,"k":"Z"},{"l":30,"a":312,"b":315,"k":"U","n":".."},{"l":30,"a":315,"b":316,"k":"Y"},{"l":30,"a":316,"b":317,"k":"W"},{"l":30,"a":317,"b":318,"k":"e"},{"l":30,"a":318,"b":319,"k":"a"},{"l":30,"a":320,"b":321,"k":"X"},{"l":30,"a":331,"b":332,"k":"Y"},{"l":30,"a":332,"b":334,"k":"V"},{"l":30,"a":337,"b":338,"k":"m"},
{"l":31,"a":6,"b":8,"k":"V"},{"l":31,"a":8,"b":11,"k":"T","n":".."},{"l":31,"a":11,"b":13,"k":"L"},{"l":31,"a":13,"b":22,"k":"Z","n":"..:clone"},{"l":31,"a":22,"b":23,"k":"N"},{"l":31,"a":23,"b":26,"k":"i","n":".."},{"l":31,"a":26,"b":27,"k":"f"},{"l":31,"a":27,"b":37,"k":"F","n":"..ring)>>"},{"l":31,"a":37,"b":40,"k":"a","n":".."},{"l":31,"a":40,"b":57,"k":"T","n":"..p::Drop>::drop"},{"l":31,"a":79,"b":81,"k":"V"},{"l":31,"a":81,"b":82,"k":"e"},{"l":31,"a":83,"b":85,"k":"Y"},{"l":31,"a":85,"b":95,"k":"M","n":"..::clone"},{"l":31,"a":95,"b":96,"k":"O"},{"l":31,"a":96,"b":99,"k":"N","n":".."},{"l":31,"a":99,"b":100,"k":"P"},{"l":31,"a":101,"b":104,"k":"X","n":".."},{"l":31,"a":104,"b":106,"k":"f"},{"l":31,"a":107,"b":108,"k":"e"},{"l":31,"a":108,"b":109,"k":"X"},{"l":31,"a":109,"b":110,"k":"O"},{"l":31,"a":110,"b":113,"k":"W","n":".."},{"l":31,"a":113,"b":114,"k":"P"},{"l":31,"a":114,"b":115,"k":"O"},{"l":31,"a":115,"b":118,"k":"b","n":".."},{"l":31,"a":118,"b":121,"k":"d","n":".."},{"l":31,"a":121,"b":124,"k":"f","n":".."},{"l":31,"a":124,"b":125,"k":"e"},{"l":31,"a":127,"b":129,"k":"Y"},{"l":31,"a":129,"b":131,"k":"O"},{"l":31,"a":131,"b":132,"k":"X"},{"l":31,"a":132,"b":133,"k":"W"},{"l":31,"a":133,"b":134,"k":"X"},{"l":31,"a":135,"b":160,"k":"d","n":"..oc::slice::hack::to_vec"},{"l":31,"a":160,"b":161,"k":"b"},{"l":31,"a":162,"b":163,"k":"M"},{"l":31,"a":163,"b":168,"k":"f","n":"..w"},{"l":31,"a":168,"b":170,"k":"W"},{"l":31,"a":170,"b":171,"k":"O"},{"l":31,"a":171,"b":173,"k":"I"},{"l":31,"a":173,"b":176,"k":"e","n":".."},{"l":31,"a":177,"b":178,"k":"d"},{"l":31,"a":178,"b":180,"k":"Y"},{"l":31,"a":180,"b":181,"k":"O"},{"l":31,"a":181,"b":195,"k":"b","n":"..earch_slots"},{"l":31,"a":195,"b":196,"k":"H"},{"l":31,"a":196,"b":224,"k":"K","n":"..rammar::parse_grammar_line"},{"l":31,"a":224,"b":229,"k":"G","n":"..f"},{"l":31,"a":229,"b":230,"k":"W"},{"l":31,"a":231,"b":232,"k":"K"},{"l":31,"a":232,"b":233,"k":"I"},{"l":31,"a":233,"b":234,"k":"Y"},{"l":31,"a":234,"b":238,"k":"N","n":".."},{"l":31,"a":238,"b":240,"k":"P"},{"l":31,"a":240,"b":243,"k":"T","n":".."},{"l":31,"a":243,"b":245,"k":"O"},{"l":31,"a":245,"b":246,"k":"L"},{"l":31,"a":246,"b":249,"k":"U"},{"l":31,"a":249,"b":250,"k":"L"},{"l":31,"a":250,"b":251,"k":"f"},{"l":31,"a":251,"b":252,"k":"b"},{"l":31,"a":252,"b":253,"k":"Y"},{"l":31,"a":254,"b":256,"k":"Y"},{"l":31,"a":257,"b":268,"k":"H","n":"..::to_vec"},{"l":31,"a":269,"b":276,"k":"Z","n":"..cate"},{"l":31,"a":281,"b":283,"k":"b"},{"l":31,"a":284,"b":285,"k":"h"},{"l":31,"a":285,"b":290,"k":"Y","n":"..e"},{"l":31,"a":290,"b":291,"k":"Y"},{"l":31,"a":291,"b":293,"k":"C"},{"l":31,"a":293,"b":294,"k":"Y"},{"l":31,"a":294,"b":295,"k":"T"},{"l":31,"a":295,"b":297,"k":"O"},{"l":31,"a":298,"b":300,"k":"C"},{"l":31,"a":300,"b":301,"k":"I"},{"l":31,"a":301,"b":302,"k":"Y"},{"l":31,"a":302,"b":303,"k":"m"},{"l":31,"a":303,"b":304,"k":"Y"},{"l":31,"a":304,"b":305,"k":"X"},{"l":31,"a":306,"b":308,"k":"K"},{"l":31,"a":308,"b":309,"k":"L"},{"l":31,"a":309,"b":310,"k":"C"},{"l":31,"a":310,"b":311,"k":"m"},{"l":31,"a":311,"b":312,"k":"e"},{"l":31,"a":312,"b":315,"k":"J","n":".."},{"l":31,"a":315,"b":316,"k":"V"},{"l":31,"a":316,"b":317,"k":"E"},{"l":31,"a":317,"b":318,"k":"L"},{"l":31,"a":318,"b":319,"k":"U"},{"l":31,"a":320,"b":321,"k":"W"},{"l":31,"a":331,"b":332,"k":"X"},{"l":31,"a":332,"b":334,"k":"e"},{"l":31,"a":337,"b":338,"k":"G"}
,{"l":32,"a":6,"b":8,"k":"s"},{"l":32,"a":8,"b":11,"k":"b","n":".."},{"l":32,"a":11,"b":13,"k":"V"},{"l":32,"a":13,"b":22,"k":"b","n":"..:clone"},{"l":32,"a":23,"b":26,"k":"c","n":".."},{"l":32,"a":26,"b":27,"k":"N"},{"l":32,"a":27,"b":33,"k":"P","n":"..rop"},{"l":32,"a":33,"b":37,"k":"f","n":".."},{"l":32,"a":37,"b":40,"k":"N","n":".."},{"l":32,"a":40,"b":57,"k":"d","n":"..rammar::Rule]>"},{"l":32,"a":79,"b":80,"k":"E"},{"l":32,"a":80,"b":81,"k":"S"},{"l":32,"a":81,"b":82,"k":"f"},{"l":32,"a":83,"b":85,"k":"V"},{"l":32,"a":85,"b":95,"k":"U","n":"..::clone"},{"l":32,"a":95,"b":96,"k":"I"},{"l":32,"a":96,"b":99,"k":"d","n":".."},{"l":32,"a":99,"b":100,"k":"E"},{"l":32,"a":101,"b":104,"k":"I","n":".."},{"l":32,"a":104,"b":106,"k":"f"},{"l":32,"a":107,"b":108,"k":"g"},{"l":32,"a":108,"b":109,"k":"e"},{"l":32,"a":109,"b":110,"k":"V"},{"l":32,"a":110,"b":113,"k":"a","n":".."},{"l":32,"a":113,"b":114,"k":"O"},{"l":32,"a":114,"b":115,"k":"h"},{"l":32,"a":115,"b":118,"k":"R","n":".."},{"l":32,"a":118,"b":121,"k":"P","n":".."},{"l":32,"a":121,"b":124,"k":"O","n":".."},{"l":32,"a":124,"b":125,"k":"e"},{"l":32,"a":125,"b":126,"k":"a"},{"l":32,"a":127,"b":129,"k":"g"},{"l":32,"a":129,"b":131,"k":"S"},{"l":32,"a":131,"b":133,"k":"f"},{"l":32,"a":133,"b":134,"k":"Y"},{"l":32,"a":135,"b":160,"k":"e","n":"..ck::ConvertVec>::to_vec"},{"l":32,"a":160,"b":161,"k":"N"},{"l":32,"a":162,"b":163,"k":"N"},{"l":32,"a":163,"b":170,"k":"F","n":"..w"},{"l":32,"a":170,"b":171,"k":"c"},{"l":32,"a":171,"b":173,"k":"U"},{"l":32,"a":173,"b":176,"k":"U","n":".."},{"l":32,"a":177,"b":178,"k":"L"},{"l":32,"a":178,"b":180,"k":"X"},{"l":32,"a":180,"b":181,"k":"T"},{"l":32,"a":181,"b":195,"k":"W","n":"..earch_slots"},{"l":32,"a":195,"b":196,"k":"X"},{"l":32,"a":196,"b":214,"k":"W","n":"..e::Clone>::clone"},{"l":32,"a":214,"b":216,"k":"O"},{"l":32,"a":216,"b":221,"k":"E","n":"..s"},{"l":32,"a":221,"b":224,"k":"U","n":".."},{"l":32,"a":224,"b":226,"k":"Y"},{"l":32,"a":226,"b":228,"k":"V"},{"l":32,"a":228,"b":229,"k":"E"},{"l":32,"a":231,"b":233,"k":"K"},{"l":32,"a":233,"b":234,"k":"b"},{"l":32,"a":234,"b":237,"k":"Y","n":".."},{"l":32,"a":237,"b":238,"k":"d"},{"l":32,"a":239,"b":240,"k":"d"},{"l":32,"a":240,"b":241,"k":"O"},{"l":32,"a":241,"b":243,"k":"W"},{"l":32,"a":243,"b":246,"k":"I"},{"l":32,"a":246,"b":247,"k":"b"},{"l":32,"a":247,"b":249,"k":"R"},{"l":32,"a":249,"b":250,"k":"S"},{"l":32,"a":250,"b":251,"k":"O"},{"l":32,"a":251,"b":252,"k":"I"},{"l":32,"a":252,"b":253,"k":"f"},{"l":32,"a":254,"b":255,"k":"h"},{"l":32,"a":255,"b":256,"k":"K"},{"l":32,"a":257,"b":268,"k":"H","n":"..::to_vec"},{"l":32,"a":269,"b":276,"k":"Z","n":"..impl"},{"l":32,"a":281,"b":283,"k":"K"},{"l":32,"a":284,"b":285,"k":"O"},{"l":32,"a":285,"b":290,"k":"J","n":"..c"},{"l":32,"a":291,"b":292,"k":"M"},{"l":32,"a":292,"b":293,"k":"I"},{"l":32,"a":293,"b":294,"k":"O"},{"l":32,"a":294,"b":295,"k":"T"},{"l":32,"a":295,"b":297,"k":"N"},{"l":32,"a":298,"b":300,"k":"e"},{"l":32,"a":300,"b":301,"k":"L"},{"l":32,"a":301,"b":303,"k":"O"},{"l":32,"a":303,"b":304,"k":"M"},{"l":32,"a":304,"b":305,"k":"V"},{"l":32,"a":306,"b":307,"k":"C"},{"l":32,"a":307,"b":308,"k":"d"},{"l":32,"a":308,"b":309,"k":"M"},{"l":32,"a":309,"b":310,"k":"O"},{"l":32,"a":310,"b":311,"k":"G"},{"l":32,"a":311,"b":312,"k":"T"},{"l":32,"a":312,"b":315,"k":"O"},{"l":32,"a":315,"b":316,"k":"M"},{"l":32,"a":316,"b":317,"k":"m"},{"l":32,"a":317,"b":318,"k":"K"},{"l":32,"a":331,"b":332,"k":"V"},{"l":32,"a":333,"b":334,"k":"P"},{"l":32,"a":337,"b":338,"k":"G"},
{"l":33,"a":6,"b":8,"k":"e"},{"l":33,"a":8,"b":11,"k":"c","n":".."},{"l":33,"a":11,"b":13,"k":"f"},{"l":33,"a":13,"b":22,"k":"N","n":"..vec_in"},{"l":33,"a":22,"b":23,"k":"e"},{"l":33,"a":23,"b":24,"k":"L"},{"l":33,"a":24,"b":26,"k":"S"},{"l":33,"a":26,"b":27,"k":"Q"},{"l":33,"a":27,"b":33,"k":"f","n":"..ble"},{"l":33,"a":33,"b":37,"k":"H","n":".."},{"l":33,"a":37,"b":38,"k":"K"},{"l":33,"a":38,"b":40,"k":"U"},{"l":33,"a":40,"b":57,"k":"U","n":"..grammar::Rule>"},{"l":33,"a":79,"b":80,"k":"O"},{"l":33,"a":80,"b":81,"k":"E"},{"l":33,"a":81,"b":82,"k":"f"},{"l":33,"a":83,"b":85,"k":"c"},{"l":33,"a":85,"b":92,"k":"f","n":"..spec"},{"l":33,"a":92,"b":95,"k":"O","n":".."},{"l":33,"a":95,"b":96,"k":"L"},{"l":33,"a":96,"b":99,"k":"Z","n":".."},{"l":33,"a":99,"b":100,"k":"O"},{"l":33,"a":101,"b":104,"k":"U","n":".."},{"l":33,"a":104,"b":106,"k":"f"},{"l":33,"a":107,"b":108,"k":"h"},{"l":33,"a":108,"b":109,"k":"e"},{"l":33,"a":109,"b":111,"k":"E"},{"l":33,"a":111,"b":114,"k":"L","n":".."},{"l":33,"a":114,"b":115,"k":"b"},{"l":33,"a":115,"b":118,"k":"e","n":".."},{"l":33,"a":118,"b":120,"k":"f"},{"l":33,"a":120,"b":121,"k":"Z"},{"l":33,"a":121,"b":124,"k":"O","n":".."},{"l":33,"a":124,"b":125,"k":"K"},{"l":33,"a":125,"b":126,"k":"X"},{"l":33,"a":127,"b":129,"k":"c"},{"l":33,"a":129,"b":130,"k":"M"},{"l":33,"a":130,"b":131,"k":"f"},{"l":33,"a":131,"b":132,"k":"Z"},{"l":33,"a":132,"b":133,"k":"b"},{"l":33,"a":133,"b":134,"k":"O"},{"l":33,"a":135,"b":158,"k":"O","n":"..:clone::Clone>::clone"},{"l":33,"a":158,"b":160,"k":"K"},{"l":33,"a":160,"b":161,"k":"T"},{"l":33,"a":162,"b":163,"k":"C"},{"l":33,"a":163,"b":168,"k":"C","n":"..l"},{"l":33,"a":168,"b":170,"k":"O"},{"l":33,"a":170,"b":172,"k":"H"},{"l":33,"a":172,"b":173,"k":"K"},{"l":33,"a":174,"b":175,"k":"O"},{"l":33,"a":177,"b":178,"k":"f"},{"l":33,"a":178,"b":180,"k":"V"},{"l":33,"a":180,"b":181,"k":"O"},{"l":33,"a":181,"b":192,"k":"d","n":"..s_nofail"},{"l":33,"a":192,"b":195,"k":"N","n":".."},{"l":33,"a":195,"b":196,"k":"N"},{"l":33,"a":197,"b":214,"k":"P","n":"..:Clone>::clone"},{"l":33,"a":214,"b":215,"k":"X"},{"l":33,"a":215,"b":217,"k":"R"},{"l":33,"a":218,"b":221,"k":"M","n":".."},{"l":33,"a":221,"b":224,"k":"f","n":".."},{"l":33,"a":224,"b":226,"k":"W"},{"l":33,"a":226,"b":228,"k":"Z"},{"l":33,"a":228,"b":229,"k":"T"},{"l":33,"a":231,"b":232,"k":"O"},{"l":33,"a":232,"b":233,"k":"K"},{"l":33,"a":233,"b":234,"k":"N"},{"l":33,"a":234,"b":238,"k":"f","n":".."},{"l":33,"a":239,"b":241,"k":"U"},{"l":33,"a":241,"b":242,"k":"E"},{"l":33,"a":242,"b":244,"k":"Q"},{"l":33,"a":244,"b":245,"k":"U"},{"l":33,"a":246,"b":247,"k":"K"},{"l":33,"a":247,"b":249,"k":"X"},{"l":33,"a":250,"b":251,"k":"f"},{"l":33,"a":251,"b":252,"k":"W"},{"l":33,"a":252,"b":253,"k":"E"},{"l":33,"a":254,"b":255,"k":"I"},{"l":33,"a":255,"b":256,"k":"E"},{"l":33,"a":257,"b":268,"k":"L","n":"..ity_in"},{"l":33,"a":269,"b":276,"k":"N","n":"..lloc"},{"l":33,"a":281,"b":283,"k":"Y"},{"l":33,"a":284,"b":285,"k":"O"},{"l":33,"a":285,"b":290,"k":"d","n":"..e"},{"l":33,"a":291,"b":292,"k":"m"},{"l":33,"a":292,"b":293,"k":"d"},{"l":33,"a":294,"b":295,"k":"d"},{"l":33,"a":295,"b":297,"k":"H"},{"l":33,"a":298,"b":299,"k":"f"},{"l":33,"a":299,"b":300,"k":"O"},{"l":33,"a":300,"b":301,"k":"I"},{"l":33,"a":301,"b":304,"k":"H"},{"l":33,"a":304,"b":305,"k":"U"},{"l":33,"a":306,"b":307,"k":"N"},{"l":33,"a":307,"b":308,"k":"a"},{"l":33,"a":308,"b":309,"k":"I"},{"l":33,"a":309,"b":310,"k":"W"},{"l":33,"a":310,"b":311,"k":"V"},{"l":33,"a":311,"b":312,"k":"W"},{"l":33,"a":312,"b":315,"k":"C"},{"l":33,"a":315,"b":316,"k":"S"},{"l":33,"a":316,"b":317,"k":"L"},{"l":33,"a":317,"b":318,"k":"U"},{"l":33,"a":331,"b":332,"k":"E"},{"l":33,"a":333,"b":334,"k":"Y"},{"l":33,"a":337,"b":338,"k":"e"},
{"l":34,"a":6,"b":8,"k":"L"},{"l":34,"a":8,"b":11,"k":"e","n":".."},{"l":34,"a":11,"b":13,"k":"V"},{"l":34,"a":13,"b":22,"k":"O","n":"..to_vec"},{"l":34,"a":22,"b":23,"k":"O"},{"l":34,"a":23,"b":24,"k":"e"},{"l":34,"a":26,"b":27,"k":"L"},{"l":34,"a":27,"b":33,"k":"m","n":"..nts"},{"l":34,"a":34,"b":37,"k":"R","n":".."},{"l":34,"a":37,"b":38,"k":"f"},{"l":34,"a":38,"b":40,"k":"a"},{"l":34,"a":40,"b":41,"k":"e"},{"l":34,"a":41,"b":55,"k":"M","n":"..mmar::Tag>>"},{"l":34,"a":55,"b":57,"k":"Z"},{"l":34,"a":80,"b":81,"k":"K"},{"l":34,"a":81,"b":82,"k":"L"},{"l":34,"a":83,"b":85,"k":"L"},{"l":34,"a":85,"b":92,"k":"U","n":"..impl"},{"l":34,"a":92,"b":95,"k":"P","n":".."},{"l":34,"a":95,"b":96,"k":"T"},{"l":34,"a":96,"b":99,"k":"M","n":".."},{"l":34,"a":99,"b":100,"k":"X"},{"l":34,"a":101,"b":104,"k":"e","n":".."},{"l":34,"a":104,"b":106,"k":"E"},{"l":34,"a":107,"b":108,"k":"P"},{"l":34,"a":108,"b":109,"k":"e"},{"l":34,"a":109,"b":110,"k":"U"},{"l":34,"a":110,"b":113,"k":"U","n":".."},{"l":34,"a":113,"b":114,"k":"N"},{"l":34,"a":114,"b":115,"k":"d"},{"l":34,"a":115,"b":118,"k":"N","n":".."},{"l":34,"a":118,"b":120,"k":"f"},{"l":34,"a":120,"b":121,"k":"I"},{"l":34,"a":121,"b":124,"k":"L","n":".."},{"l":34,"a":124,"b":125,"k":"Z"},{"l":34,"a":125,"b":126,"k":"T"},{"l":34,"a":127,"b":131,"k":"C"},{"l":34,"a":132,"b":133,"k":"K"},{"l":34,"a":133,"b":134,"k":"N"},{"l":34,"a":135,"b":136,"k":"X"},{"l":34,"a":136,"b":141,"k":"e","n":"..e"},{"l":34,"a":141,"b":158,"k":"h","n":"..:Clone>::clone"},{"l":34,"a":158,"b":160,"k":"I"},{"l":34,"a":160,"b":161,"k":"O"},{"l":34,"a":162,"b":163,"k":"M"},{"l":34,"a":163,"b":168,"k":"e","n":"..c"},{"l":34,"a":168,"b":170,"k":"W"},{"l":34,"a":170,"b":172,"k":"I"},{"l":34,"a":172,"b":173,"k":"L"},{"l":34,"a":174,"b":176,"k":"I"},{"l":34,"a":177,"b":180,"k":"O"},{"l":34,"a":180,"b":181,"k":"M"},{"l":34,"a":182,"b":192,"k":"f","n":"..h_slots"},{"l":34,"a":192,"b":195,"k":"f","n":".."},{"l":34,"a":195,"b":196,"k":"h"},{"l":34,"a":197,"b":214,"k":"Z","n":"..T]>::to_vec_in"},{"l":34,"a":214,"b":217,"k":"W"},{"l":34,"a":217,"b":218,"k":"V"},{"l":34,"a":218,"b":219,"k":"O"},{"l":34,"a":219,"b":221,"k":"b"},{"l":34,"a":222,"b":224,"k":"e","n":".."},{"l":34,"a":224,"b":225,"k":"Y"},{"l":34,"a":225,"b":226,"k":"Z"},{"l":34,"a":226,"b":227,"k":"E"},{"l":34,"a":227,"b":228,"k":"T"},{"l":34,"a":228,"b":229,"k":"h"},{"l":34,"a":231,"b":232,"k":"N"},{"l":34,"a":232,"b":233,"k":"L"},{"l":34,"a":233,"b":234,"k":"N"},{"l":34,"a":234,"b":237,"k":"Z","n":".."},{"l":34,"a":239,"b":242,"k":"T"},{"l":34,"a":242,"b":243,"k":"b"},{"l":34,"a":243,"b":244,"k":"T"},{"l":34,"a":244,"b":245,"k":"H"},{"l":34,"a":247,"b":249,"k":"U"},{"l":34,"a":250,"b":251,"k":"e"},{"l":34,"a":252,"b":253,"k":"L"},{"l":34,"a":254,"b":255,"k":"M"},{"l":34,"a":257,"b":266,"k":"C","n":"..ity_in"},{"l":34,"a":266,"b":268,"k":"V"},{"l":34,"a":269,"b":276,"k":"d","n":"malloc"},{"l":34,"a":281,"b":283,"k":"d"},{"l":34,"a":286,"b":290,"k":"I","n":".."},{"l":34,"a":291,"b":292,"k":"f"},{"l":34,"a":292,"b":293,"k":"W"},{"l":34,"a":294,"b":295,"k":"L"},{"l":34,"a":295,"b":296,"k":"U"},{"l":34,"a":296,"b":297,"k":"L"},{"l":34,"a":298,"b":299,"k":"Y"},{"l":34,"a":299,"b":300,"k":"W"},{"l":34,"a":300,"b":301,"k":"T"},{"l":34,"a":301,"b":302,"k":"E"},{"l":34,"a":302,"b":303,"k":"P"},{"l":34,"a":303,"b":304,"k":"F"},{"l":34,"a":304,"b":305,"k":"W"},{"l":34,"a":306,"b":307,"k":"L"},{"l":34,"a":307,"b":308,"k":"K"},{"l":34,"a":308,"b":309,"k":"I"},{"l":34,"a":309,"b":310,"k":"E"},{"l":34,"a":310,"b":311,"k":"F"},{"l":34,"a":311,"b":312,"k":"Q"},{"l":34,"a":312,"b":313,"k":"d"},{"l":34,"a":313,"b":314,"k":"W"},{"l":34,"a":314,"b":315,"k":"Z"},{"l":34,"a":315,"b":316,"k":"b"},{"l":34,"a":331,"b":332,"k":"M"},{"l":34,"a":333,"b":334,"k":"N"},{"l":34,"a":337,"b":338,"k":"V"},
{"l":35,"a":6,"b":8,"k":"b"},{"l":35,"a":8,"b":11,"k":"Y","n":".."},{"l":35,"a":11,"b":13,"k":"X"},{"l":35,"a":13,"b":22,"k":"T","n":"..to_vec"},{"l":35,"a":22,"b":23,"k":"e"},{"l":35,"a":23,"b":24,"k":"b"},{"l":35,"a":26,"b":27,"k":"b"},{"l":35,"a":27,"b":30,"k":"N","n":".."},{"l":35,"a":30,"b":33,"k":"U","n":".."},{"l":35,"a":34,"b":37,"k":"L","n":".."},{"l":35,"a":37,"b":40,"k":"I"},{"l":35,"a":40,"b":41,"k":"h"},{"l":35,"a":41,"b":55,"k":"O","n":"..Drop>::drop"},{"l":35,"a":55,"b":57,"k":"A"},{"l":35,"a":80,"b":81,"k":"Y"},{"l":35,"a":81,"b":82,"k":"M"},{"l":35,"a":83,"b":85,"k":"a"},{"l":35,"a":85,"b":92,"k":"d","n":"..lone"},{"l":35,"a":92,"b":95,"k":"L","n":".."},{"l":35,"a":95,"b":96,"k":"Y"},{"l":35,"a":96,"b":99,"k":"Z","n":".."},{"l":35,"a":99,"b":100,"k":"U"},{"l":35,"a":101,"b":103,"k":"h"},{"l":35,"a":103,"b":104,"k":"V"},{"l":35,"a":104,"b":106,"k":"O"},{"l":35,"a":107,"b":108,"k":"E"},{"l":35,"a":108,"b":109,"k":"f"},{"l":35,"a":109,"b":110,"k":"S"},{"l":35,"a":110,"b":113,"k":"a","n":".."},{"l":35,"a":113,"b":114,"k":"d"},{"l":35,"a":114,"b":115,"k":"h"},{"l":35,"a":116,"b":119,"k":"K","n":".."},{"l":35,"a":119,"b":121,"k":"O"},{"l":35,"a":121,"b":122,"k":"d"},{"l":35,"a":122,"b":125,"k":"U","n":".."},{"l":35,"a":125,"b":126,"k":"O"},{"l":35,"a":132,"b":133,"k":"f"},{"l":35,"a":133,"b":134,"k":"e"},{"l":35,"a":135,"b":136,"k":"Z"},{"l":35,"a":136,"b":141,"k":"d","n":"..e"},{"l":35,"a":141,"b":159,"k":"L","n":"..:Clone>::clone"},{"l":35,"a":159,"b":160,"k":"M"},{"l":35,"a":162,"b":163,"k":"f"},{"l":35,"a":163,"b":168,"k":"d","n":"..c"},{"l":35,"a":168,"b":169,"k":"O"},{"l":35,"a":169,"b":170,"k":"L"},{"l":35,"a":170,"b":171,"k":"e"},{"l":35,"a":171,"b":172,"k":"S"},{"l":35,"a":172,"b":173,"k":"L"},{"l":35,"a":174,"b":175,"k":"f"},{"l":35,"a":175,"b":176,"k":"U"},{"l":35,"a":179,"b":180,"k":"L"},{"l":35,"a":180,"b":181,"k":"V"},{"l":35,"a":182,"b":192,"k":"N","n":"..h_slots"},{"l":35,"a":192,"b":195,"k":"O","n":".."},{"l":35,"a":195,"b":196,"k":"a"},{"l":35,"a":197,"b":214,"k":"b","n":"..::hack::to_vec"},{"l":35,"a":214,"b":215,"k":"E"},{"l":35,"a":215,"b":217,"k":"K"},{"l":35,"a":217,"b":221,"k":"C"},{"l":35,"a":222,"b":224,"k":"N","n":".."},{"l":35,"a":224,"b":225,"k":"e"},{"l":35,"a":225,"b":226,"k":"E"},{"l":35,"a":226,"b":228,"k":"O"},{"l":35,"a":231,"b":232,"k":"O"},{"l":35,"a":233,"b":234,"k":"X"},{"l":35,"a":235,"b":237,"k":"h"},{"l":35,"a":239,"b":241,"k":"a"},{"l":35,"a":241,"b":242,"k":"Y"},{"l":35,"a":243,"b":244,"k":"P"},{"l":35,"a":244,"b":245,"k":"b"},{"l":35,"a":247,"b":249,"k":"d"},{"l":35,"a":252,"b":253,"k":"V"},{"l":35,"a":254,"b":255,"k":"L"},{"l":35,"a":257,"b":266,"k":"E","n":"..ate_in"},{"l":35,"a":266,"b":268,"k":"K"},{"l":35,"a":269,"b":276,"k":"F","n":"..o.6]"},{"l":35,"a":281,"b":283,"k":"f"},{"l":35,"a":291,"b":292,"k":"I"},{"l":35,"a":294,"b":295,"k":"L"},{"l":35,"a":296,"b":297,"k":"L"},{"l":35,"a":298,"b":299,"k":"I"},{"l":35,"a":299,"b":300,"k":"L"},{"l":35,"a":300,"b":301,"k":"h"},{"l":35,"a":301,"b":302,"k":"R"},{"l":35,"a":303,"b":304,"k":"O"},{"l":35,"a":304,"b":305,"k":"Y"},{"l":35,"a":306,"b":307,"k":"G"},{"l":35,"a":307,"b":308,"k":"b"},{"l":35,"a":308,"b":310,"k":"W"},{"l":35,"a":310,"b":311,"k":"h"},{"l":35,"a":312,"b":316,"k":"E"},{"l":35,"a":331,"b":332,"k":"I"},{"l":35,"a":333,"b":334,"k":"m"},{"l":35,"a":337,"b":338,"k":"S"},
{"l":36,"a":6,"b":8,"k":"Q"},{"l":36,"a":8,"b":11,"k":"f","n":".."},{"l":36,"a":11,"b":13,"k":"N"},{"l":36,"a":13,"b":21,"k":"i","n":"..clone"},{"l":36,"a":21,"b":22,"k":"S"},{"l":36,"a":22,"b":23,"k":"c"},{"l":36,"a":23,"b":24,"k":"f"},{"l":36,"a":26,"b":27,"k":"V"},{"l":36,"a":27,"b":30,"k":"d","n":".."},{"l":36,"a":30,"b":33,"k":"O","n":".."},{"l":36,"a":37,"b":38,"k":"U"},{"l":36,"a":38,"b":40,"k":"O"},{"l":36,"a":41,"b":55,"k":"H","n":"..mmar::Tag]>"},{"l":36,"a":55,"b":57,"k":"V"},{"l":36,"a":80,"b":81,"k":"a"},{"l":36,"a":81,"b":82,"k":"f"},{"l":36,"a":83,"b":85,"k":"L"},{"l":36,"a":85,"b":92,"k":"e","n":"..lone"},{"l":36,"a":92,"b":95,"k":"O","n":".."},{"l":36,"a":95,"b":96,"k":"L"},{"l":36,"a":96,"b":99,"k":"O","n":".."},{"l":36,"a":99,"b":100,"k":"E"},{"l":36,"a":101,"b":103,"k":"W"},{"l":36,"a":103,"b":104,"k":"L"},{"l":36,"a":104,"b":105,"k":"O"},{"l":36,"a":105,"b":106,"k":"E"},{"l":36,"a":107,"b":108,"k":"N"},{"l":36,"a":108,"b":109,"k":"f"},{"l":36,"a":109,"b":110,"k":"S"},{"l":36,"a":110,"b":113,"k":"e","n":".."},{"l":36,"a":113,"b":114,"k":"G"},{"l":36,"a":114,"b":115,"k":"e"},{"l":36,"a":115,"b":118,"k":"T","n":".."},{"l":36,"a":118,"b":120,"k":"O"},{"l":36,"a":120,"b":121,"k":"P"},{"l":36,"a":121,"b":124,"k":"H","n":".."},{"l":36,"a":124,"b":125,"k":"Q"},{"l":36,"a":132,"b":133,"k":"X"},{"l":36,"a":133,"b":134,"k":"E"},{"l":36,"a":135,"b":136,"k":"O"},{"l":36,"a":136,"b":141,"k":"T","n":"..e"},{"l":36,"a":142,"b":158,"k":"W","n":"..Clone>::clone"},{"l":36,"a":158,"b":160,"k":"f"},{"l":36,"a":160,"b":161,"k":"W"},{"l":36,"a":162,"b":163,"k":"M"},{"l":36,"a":163,"b":169,"k":"U","n":"..]"},{"l":36,"a":170,"b":171,"k":"X"},{"l":36,"a":171,"b":172,"k":"W"},{"l":36,"a":172,"b":173,"k":"S"},{"l":36,"a":174,"b":175,"k":"a"},{"l":36,"a":175,"b":176,"k":"F"},{"l":36,"a":179,"b":181,"k":"E"},{"l":36,"a":182,"b":192,"k":"U","n":"..ots_imp"},{"l":36,"a":192,"b":194,"k":"b"},{"l":36,"a":194,"b":196,"k":"Z"},{"l":36,"a":197,"b":214,"k":"L","n":"..rtVec>::to_vec"},{"l":36,"a":214,"b":216,"k":"Q"},{"l":36,"a":216,"b":217,"k":"b"},{"l":36,"a":217,"b":220,"k":"E"},{"l":36,"a":221,"b":224,"k":"c","n":".."},{"l":36,"a":224,"b":225,"k":"Z"},{"l":36,"a":225,"b":226,"k":"e"},{"l":36,"a":226,"b":227,"k":"O"},{"l":36,"a":227,"b":228,"k":"c"},{"l":36,"a":231,"b":232,"k":"O"},{"l":36,"a":233,"b":234,"k":"H"},{"l":36,"a":235,"b":237,"k":"K"},{"l":36,"a":239,"b":241,"k":"F"},{"l":36,"a":241,"b":242,"k":"N"},{"l":36,"a":243,"b":244,"k":"Y"},{"l":36,"a":244,"b":245,"k":"a"},{"l":36,"a":247,"b":249,"k":"e"},{"l":36,"a":252,"b":253,"k":"m"},{"l":36,"a":254,"b":255,"k":"E"},{"l":36,"a":258,"b":266,"k":"d","n":"..ocate"},{"l":36,"a":273,"b":276,"k":"I","n":".."},{"l":36,"a":281,"b":283,"k":"O"},{"l":36,"a":291,"b":292,"k":"E"},{"l":36,"a":296,"b":297,"k":"X"},{"l":36,"a":298,"b":299,"k":"L"},{"l":36,"a":299,"b":300,"k":"T"},{"l":36,"a":300,"b":301,"k":"U"},{"l":36,"a":301,"b":302,"k":"S"},{"l":36,"a":304,"b":305,"k":"L"},{"l":36,"a":306,"b":307,"k":"F"},{"l":36,"a":307,"b":308,"k":"X"},{"l":36,"a":308,"b":309,"k":"O"},{"l":36,"a":309,"b":310,"k":"V"},{"l":36,"a":310,"b":311,"k":"K"},{"l":36,"a":312,"b":314,"k":"f"},{"l":36,"a":314,"b":315,"k":"G"},{"l":36,"a":315,"b":316,"k":"O"},{"l":36,"a":331,"b":332,"k":"f"},{"l":36,"a":333,"b":334,"k":"U"},{"l":36,"a":337,"b":338,"k":"b"},
{"l":37,"a":6,"b":8,"k":"I"},{"l":37,"a":8,"b":11,"k":"W","n":".."},{"l":37,"a":11,"b":13,"k":"T"},{"l":37,"a":13,"b":15,"k":"d"},{"l":37,"a":15,"b":16,"k":"K"},{"l":37,"a":16,"b":21,"k":"C","n":"..e"},{"l":37,"a":21,"b":22,"k":"W"},{"l":37,"a":22,"b":23,"k":"Z"},{"l":37,"a":27,"b":30,"k":"U","n":".."},{"l":37,"a":30,"b":33,"k":"O","n":".."},{"l":37,"a":37,"b":38,"k":"T"},{"l":37,"a":38,"b":39,"k":"F"},{"l":37,"a":39,"b":40,"k":"S"},{"l":37,"a":41,"b":55,"k":"U","n":"..ammar::Tag>"},{"l":37,"a":55,"b":57,"k":"f"},{"l":37,"a":79,"b":80,"k":"L"},{"l":37,"a":80,"b":81,"k":"X"},{"l":37,"a":83,"b":85,"k":"Q"},{"l":37,"a":85,"b":92,"k":"N","n":"..lone"},{"l":37,"a":92,"b":95,"k":"W","n":".."},{"l":37,"a":95,"b":96,"k":"O"},{"l":37,"a":96,"b":99,"k":"N","n":".."},{"l":37,"a":99,"b":100,"k":"O"},{"l":37,"a":101,"b":103,"k":"M"},{"l":37,"a":105,"b":106,"k":"b"},{"l":37,"a":108,"b":109,"k":"W"},{"l":37,"a":109,"b":110,"k":"b"},{"l":37,"a":110,"b":113,"k":"L","n":".."},{"l":37,"a":113,"b":114,"k":"T"},{"l":37,"a":114,"b":115,"k":"O"},{"l":37,"a":116,"b":118,"k":"S","n":".."},{"l":37,"a":118,"b":120,"k":"f"},{"l":37,"a":120,"b":121,"k":"b"},{"l":37,"a":123,"b":124,"k":"T"},{"l":37,"a":124,"b":125,"k":"O"},{"l":37,"a":132,"b":133,"k":"c"},{"l":37,"a":133,"b":134,"k":"L"},{"l":37,"a":135,"b":136,"k":"O"},{"l":37,"a":136,"b":141,"k":"U","n":"..n"},{"l":37,"a":142,"b":148,"k":"T","n":"..pec"},{"l":37,"a":148,"b":160,"k":"T","n":"..ialized"},{"l":37,"a":160,"b":161,"k":"V"},{"l":37,"a":162,"b":163,"k":"X"},{"l":37,"a":164,"b":168,"k":"G","n":"..]"},{"l":37,"a":170,"b":171,"k":"Y"},{"l":37,"a":171,"b":172,"k":"E"},{"l":37,"a":172,"b":173,"k":"M"},{"l":37,"a":174,"b":176,"k":"T"},{"l":37,"a":179,"b":180,"k":"G"},{"l":37,"a":180,"b":181,"k":"e"},{"l":37,"a":183,"b":192,"k":"e","n":"..ch_imp"},{"l":37,"a":192,"b":193,"k":"N"},{"l":37,"a":193,"b":195,"k":"T"},{"l":37,"a":195,"b":196,"k":"Y"},{"l":37,"a":197,"b":210,"k":"N","n":"..ne>::clone"},{"l":37,"a":210,"b":214,"k":"L","n":".."},{"l":37,"a":214,"b":215,"k":"Z"},{"l":37,"a":215,"b":216,"k":"O"},{"l":37,"a":216,"b":217,"k":"T"},{"l":37,"a":218,"b":219,"k":"X"},{"l":37,"a":219,"b":221,"k":"L"},{"l":37,"a":222,"b":223,"k":"Y"},{"l":37,"a":223,"b":224,"k":"N"},{"l":37,"a":224,"b":225,"k":"U"},{"l":37,"a":225,"b":226,"k":"I"},{"l":37,"a":226,"b":227,"k":"O"},{"l":37,"a":227,"b":228,"k":"H"},{"l":37,"a":233,"b":234,"k":"M"},{"l":37,"a":235,"b":237,"k":"h"},{"l":37,"a":239,"b":241,"k":"C"},{"l":37,"a":241,"b":242,"k":"M"},{"l":37,"a":243,"b":244,"k":"I"},{"l":37,"a":244,"b":245,"k":"K"},{"l":37,"a":247,"b":249,"k":"T"},{"l":37,"a":252,"b":253,"k":"I"},{"l":37,"a":254,"b":255,"k":"M"},{"l":37,"a":258,"b":266,"k":"M","n":".._impl"},{"l":37,"a":275,"b":276,"k":"U"},{"l":37,"a":281,"b":283,"k":"G"},{"l":37,"a":291,"b":292,"k":"K"},{"l":37,"a":296,"b":297,"k":"C"},{"l":37,"a":298,"b":299,"k":"E"},{"l":37,"a":299,"b":300,"k":"N"},{"l":37,"a":300,"b":301,"k":"H"},{"l":37,"a":301,"b":302,"k":"G"},{"l":37,"a":304,"b":305,"k":"V"},{"l":37,"a":306,"b":307,"k":"L"},{"l":37,"a":307,"b":308,"k":"M"},{"l":37,"a":308,"b":309,"k":"b"},{"l":37,"a":309,"b":310,"k":"H"},{"l":37,"a":310,"b":311,"k":"f"},{"l":37,"a":312,"b":314,"k":"H"},{"l":37,"a":314,"b":315,"k":"U"},{"l":37,"a":315,"b":316,"k":"M"},{"l":37,"a":331,"b":332,"k":"V"},{"l":37,"a":333,"b":334,"k":"E"},{"l":37,"a":337,"b":338,"k":"L"},
{"l":38,"a":6,"b":8,"k":"K"},{"l":38,"a":8,"b":11,"k":"U","n":".."},{"l":38,"a":11,"b":13,"k":"V"},{"l":38,"a":14,"b":15,"k":"T"},{"l":38,"a":15,"b":16,"k":"O"},{"l":38,"a":16,"b":21,"k":"S","n":"..e"},{"l":38,"a":21,"b":22,"k":"O"},{"l":38,"a":22,"b":23,"k":"E"},{"l":38,"a":27,"b":30,"k":"a","n":".."},{"l":38,"a":30,"b":33,"k":"m","n":".."},{"l":38,"a":37,"b":38,"k":"m"},{"l":38,"a":38,"b":39,"k":"K"},{"l":38,"a":39,"b":40,"k":"U"},{"l":38,"a":41,"b":42,"k":"e"},{"l":38,"a":42,"b":46,"k":"S","n":".."},{"l":38,"a":46,"b":55,"k":"P","n":"..ring>>"},{"l":38,"a":55,"b":57,"k":"Y"},{"l":38,"a":80,"b":81,"k":"U"},{"l":38,"a":83,"b":85,"k":"X"},{"l":38,"a":85,"b":92,"k":"S","n":"..c_in"},{"l":38,"a":92,"b":95,"k":"L","n":".."},{"l":38,"a":95,"b":96,"k":"e"},{"l":38,"a":96,"b":99,"k":"F","n":".."},{"l":38,"a":99,"b":100,"k":"U"},{"l":38,"a":101,"b":103,"k":"M"},{"l":38,"a":105,"b":106,"k":"G"},{"l":38,"a":108,"b":109,"k":"T"},{"l":38,"a":109,"b":110,"k":"E"},{"l":38,"a":110,"b":113,"k":"V","n":".."},{"l":38,"a":114,"b":115,"k":"O"},{"l":38,"a":115,"b":118,"k":"Z","n":".."},{"l":38,"a":118,"b":120,"k":"W"},{"l":38,"a":120,"b":121,"k":"O"},{"l":38,"a":123,"b":125,"k":"e"},{"l":38,"a":132,"b":133,"k":"V"},{"l":38,"a":133,"b":134,"k":"Y"},{"l":38,"a":135,"b":136,"k":"Y"},{"l":38,"a":136,"b":141,"k":"b","n":"..c"},{"l":38,"a":142,"b":148,"k":"Y","n":"..mpl"},{"l":38,"a":148,"b":158,"k":"M","n":"..ialized"},{"l":38,"a":158,"b":160,"k":"E"},{"l":38,"a":162,"b":163,"k":"L"},{"l":38,"a":164,"b":168,"k":"a","n":"..t"},{"l":38,"a":170,"b":171,"k":"K"},{"l":38,"a":171,"b":172,"k":"L"},{"l":38,"a":172,"b":173,"k":"V"},{"l":38,"a":174,"b":175,"k":"b"},{"l":38,"a":175,"b":176,"k":"e"},{"l":38,"a":179,"b":180,"k":"e"},{"l":38,"a":180,"b":181,"k":"O"},{"l":38,"a":183,"b":191,"k":"b","n":"..track"},{"l":38,"a":191,"b":192,"k":"Y"},{"l":38,"a":192,"b":194,"k":"P"},{"l":38,"a":197,"b":200,"k":"H","n":".."},{"l":38,"a":200,"b":201,"k":"L"},{"l":38,"a":201,"b":210,"k":"d","n":"..:clone"},{"l":38,"a":210,"b":214,"k":"W","n":".."},{"l":38,"a":214,"b":215,"k":"N"},{"l":38,"a":215,"b":216,"k":"O"},{"l":38,"a":216,"b":217,"k":"Y"},{"l":38,"a":218,"b":219,"k":"b"},{"l":38,"a":219,"b":221,"k":"C"},{"l":38,"a":222,"b":223,"k":"Z"},{"l":38,"a":223,"b":224,"k":"V"},{"l":38,"a":224,"b":225,"k":"U"},{"l":38,"a":225,"b":226,"k":"W"},{"l":38,"a":227,"b":228,"k":"L"},{"l":38,"a":235,"b":237,"k":"T"},{"l":38,"a":239,"b":241,"k":"X"},{"l":38,"a":241,"b":242,"k":"L"},{"l":38,"a":243,"b":244,"k":"O"},{"l":38,"a":244,"b":245,"k":"V"},{"l":38,"a":252,"b":253,"k":"O"},{"l":38,"a":254,"b":255,"k":"O"},{"l":38,"a":258,"b":266,"k":"L","n":"..alloc"},{"l":38,"a":281,"b":283,"k":"e"},{"l":38,"a":291,"b":292,"k":"G"},{"l":38,"a":296,"b":297,"k":"V"},{"l":38,"a":299,"b":300,"k":"C"},{"l":38,"a":300,"b":301,"k":"F"},{"l":38,"a":301,"b":302,"k":"G"},{"l":38,"a":304,"b":305,"k":"f"},{"l":38,"a":306,"b":307,"k":"U"},{"l":38,"a":307,"b":308,"k":"h"},{"l":38,"a":310,"b":311,"k":"b"},{"l":38,"a":312,"b":314,"k":"g"},{"l":38,"a":314,"b":315,"k":"Y"},{"l":38,"a":315,"b":316,"k":"L"},{"l":38,"a":331,"b":332,"k":"G"},{"l":38,"a":333,"b":334,"k":"N"},
{"l":39,"a":6,"b":8,"k":"P"},{"l":39,"a":8,"b":11,"k":"O","n":".."},{"l":39,"a":11,"b":13,"k":"a"},{"l":39,"a":14,"b":15,"k":"Y"},{"l":39,"a":15,"b":16,"k":"X"},{"l":39,"a":16,"b":21,"k":"W","n":"..e"},{"l":39,"a":21,"b":22,"k":"b"},{"l":39,"a":22,"b":23,"k":"X"},{"l":39,"a":27,"b":30,"k":"f","n":".."},{"l":39,"a":30,"b":33,"k":"f","n":".."},{"l":39,"a":37,"b":38,"k":"e"},{"l":39,"a":38,"b":39,"k":"N"},{"l":39,"a":39,"b":40,"k":"L"},{"l":39,"a":41,"b":42,"k":"K"},{"l":39,"a":42,"b":46,"k":"K","n":".."},{"l":39,"a":46,"b":55,"k":"d","n":"..tate>>"},{"l":39,"a":55,"b":57,"k":"V"},{"l":39,"a":81,"b":82,"k":"L"},{"l":39,"a":83,"b":85,"k":"X"},{"l":39,"a":85,"b":92,"k":"c","n":".._vec"},{"l":39,"a":92,"b":95,"k":"U","n":".."},{"l":39,"a":95,"b":96,"k":"Y"},{"l":39,"a":96,"b":99,"k":"T","n":".."},{"l":39,"a":99,"b":100,"k":"L"},{"l":39,"a":102,"b":103,"k":"Y"},{"l":39,"a":105,"b":106,"k":"G"},{"l":39,"a":108,"b":109,"k":"Y"},{"l":39,"a":110,"b":113,"k":"O","n":".."},{"l":39,"a":114,"b":115,"k":"O"},{"l":39,"a":115,"b":118,"k":"U","n":".."},{"l":39,"a":118,"b":120,"k":"O"},{"l":39,"a":120,"b":121,"k":"X"},{"l":39,"a":124,"b":125,"k":"Y"},{"l":39,"a":125,"b":126,"k":"O"},{"l":39,"a":133,"b":134,"k":"L"},{"l":39,"a":135,"b":136,"k":"G"},{"l":39,"a":136,"b":141,"k":"X","n":"..c"},{"l":39,"a":142,"b":146,"k":"f","n":".."},{"l":39,"a":146,"b":148,"k":"L"},{"l":39,"a":148,"b":158,"k":"N","n":"..o_alloc"},{"l":39,"a":158,"b":160,"k":"O"},{"l":39,"a":162,"b":163,"k":"T"},{"l":39,"a":163,"b":168,"k":"e","n":".."},{"l":39,"a":170,"b":171,"k":"C"},{"l":39,"a":171,"b":172,"k":"h"},{"l":39,"a":172,"b":173,"k":"E"},{"l":39,"a":174,"b":175,"k":"O"},{"l":39,"a":175,"b":176,"k":"e"},{"l":39,"a":179,"b":180,"k":"f"},{"l":39,"a":180,"b":181,"k":"M"},{"l":39,"a":183,"b":191,"k":"H","n":"..:step"},{"l":39,"a":191,"b":192,"k":"N"},{"l":39,"a":192,"b":194,"k":"d"},{"l":39,"a":197,"b":200,"k":"W","n":".."},{"l":39,"a":200,"b":201,"k":"M"},{"l":39,"a":201,"b":210,"k":"T","n":"..:clone"},{"l":39,"a":210,"b":214,"k":"E","n":".."},{"l":39,"a":214,"b":215,"k":"a"},{"l":39,"a":215,"b":216,"k":"V"},{"l":39,"a":216,"b":217,"k":"N"},{"l":39,"a":218,"b":219,"k":"E"},{"l":39,"a":219,"b":220,"k":"e"},{"l":39,"a":220,"b":222,"k":"W"},{"l":39,"a":222,"b":223,"k":"U"},{"l":39,"a":223,"b":224,"k":"R"},{"l":39,"a":224,"b":225,"k":"V"},{"l":39,"a":226,"b":227,"k":"X"},{"l":39,"a":227,"b":228,"k":"f"},{"l":39,"a":235,"b":237,"k":"T"},{"l":39,"a":239,"b":241,"k":"b"},{"l":39,"a":241,"b":242,"k":"e"},{"l":39,"a":244,"b":245,"k":"I"},{"l":39,"a":252,"b":253,"k":"I"},{"l":39,"a":254,"b":255,"k":"X"},{"l":39,"a":258,"b":266,"k":"I","n":"malloc"},{"l":39,"a":281,"b":283,"k":"M"},{"l":39,"a":291,"b":292,"k":"L"},{"l":39,"a":296,"b":297,"k":"T"},{"l":39,"a":301,"b":302,"k":"T"},{"l":39,"a":306,"b":307,"k":"O"},{"l":39,"a":307,"b":308,"k":"L"},{"l":39,"a":310,"b":311,"k":"K"},{"l":39,"a":312,"b":315,"k":"R"},{"l":39,"a":315,"b":316,"k":"N"},{"l":39,"a":331,"b":332,"k":"L"},
{"l":40,"a":6,"b":8,"k":"Y"},{"l":40,"a":8,"b":11,"k":"S","n":".."},{"l":40,"a":11,"b":13,"k":"Y"},{"l":40,"a":14,"b":15,"k":"g"},{"l":40,"a":15,"b":16,"k":"O"},{"l":40,"a":16,"b":21,"k":"T","n":"..c"},{"l":40,"a":21,"b":22,"k":"L"},{"l":40,"a":22,"b":23,"k":"Y"},{"l":40,"a":27,"b":30,"k":"U","n":".."},{"l":40,"a":37,"b":38,"k":"X"},{"l":40,"a":38,"b":39,"k":"Z"},{"l":40,"a":41,"b":42,"k":"Y"},{"l":40,"a":42,"b":46,"k":"O","n":".."},{"l":40,"a":46,"b":55,"k":"e","n":"..ing)>>"},{"l":40,"a":55,"b":57,"k":"W"},{"l":40,"a":81,"b":82,"k":"Y"},{"l":40,"a":83,"b":85,"k":"d"},{"l":40,"a":85,"b":92,"k":"G","n":".._vec"},{"l":40,"a":92,"b":95,"k":"X","n":".."},{"l":40,"a":95,"b":96,"k":"L"},{"l":40,"a":96,"b":99,"k":"f","n":".."},{"l":40,"a":99,"b":100,"k":"W"},{"l":40,"a":105,"b":106,"k":"f"},{"l":40,"a":110,"b":113,"k":"K","n":".."},{"l":40,"a":114,"b":115,"k":"L"},{"l":40,"a":115,"b":118,"k":"d","n":".."},{"l":40,"a":118,"b":120,"k":"P"},{"l":40,"a":120,"b":121,"k":"O"},{"l":40,"a":124,"b":125,"k":"G"},{"l":40,"a":133,"b":134,"k":"Z"},{"l":40,"a":135,"b":136,"k":"O"},{"l":40,"a":136,"b":141,"k":"f","n":".."},{"l":40,"a":142,"b":146,"k":"V","n":".."},{"l":40,"a":146,"b":148,"k":"X"},{"l":40,"a":148,"b":158,"k":"d","n":"..llocate"},{"l":40,"a":158,"b":160,"k":"N"},{"l":40,"a":163,"b":168,"k":"X","n":".."},{"l":40,"a":170,"b":171,"k":"f"},{"l":40,"a":171,"b":172,"k":"G"},{"l":40,"a":172,"b":173,"k":"C"},{"l":40,"a":174,"b":175,"k":"Z"},{"l":40,"a":175,"b":176,"k":"O"},{"l":40,"a":179,"b":180,"k":"g"},{"l":40,"a":185,"b":188,"k":"a","n":".."},{"l":40,"a":188,"b":190,"k":"X"},{"l":40,"a":190,"b":191,"k":"O"},{"l":40,"a":191,"b":192,"k":"Y"},{"l":40,"a":197,"b":200,"k":"E","n":".."},{"l":40,"a":200,"b":210,"k":"K","n":"..:clone"},{"l":40,"a":210,"b":214,"k":"Q","n":".."},{"l":40,"a":214,"b":215,"k":"L"},{"l":40,"a":215,"b":216,"k":"X"},{"l":40,"a":216,"b":217,"k":"Z"},{"l":40,"a":218,"b":219,"k":"O"},{"l":40,"a":219,"b":220,"k":"h"},{"l":40,"a":221,"b":222,"k":"X"},{"l":40,"a":222,"b":223,"k":"f"},{"l":40,"a":223,"b":224,"k":"Y"},{"l":40,"a":224,"b":225,"k":"O"},{"l":40,"a":226,"b":227,"k":"E"},{"l":40,"a":227,"b":228,"k":"U"},{"l":40,"a":235,"b":237,"k":"h"},{"l":40,"a":239,"b":241,"k":"f"},{"l":40,"a":241,"b":242,"k":"T"},{"l":40,"a":244,"b":245,"k":"T"},{"l":40,"a":252,"b":253,"k":"b"},{"l":40,"a":254,"b":255,"k":"L"},{"l":40,"a":260,"b":266,"k":"F","n":"...6]"},{"l":40,"a":281,"b":283,"k":"T"},{"l":40,"a":291,"b":292,"k":"X"},{"l":40,"a":296,"b":297,"k":"Y"},{"l":40,"a":306,"b":307,"k":"a"},{"l":40,"a":307,"b":308,"k":"L"},{"l":40,"a":310,"b":311,"k":"a"},{"l":40,"a":312,"b":314,"k":"e"},{"l":40,"a":314,"b":315,"k":"Y"},{"l":40,"a":331,"b":332,"k":"Y"},
{"l":41,"a":6,"b":8,"k":"T"},{"l":41,"a":8,"b":11,"k":"L","n":".."},{"l":41,"a":11,"b":13,"k":"U"},{"l":41,"a":14,"b":15,"k":"L"},{"l":41,"a":15,"b":16,"k":"N"},{"l":41,"a":16,"b":21,"k":"S","n":"..l"},{"l":41,"a":21,"b":23,"k":"E"},{"l":41,"a":27,"b":30,"k":"L","n":".."},{"l":41,"a":37,"b":38,"k":"J"},{"l":41,"a":38,"b":39,"k":"Z"},{"l":41,"a":41,"b":42,"k":"V"},{"l":41,"a":42,"b":46,"k":"X","n":".."},{"l":41,"a":46,"b":54,"k":"A","n":"..:drop"},{"l":41,"a":54,"b":55,"k":"O"},{"l":41,"a":55,"b":57,"k":"I"},{"l":41,"a":81,"b":82,"k":"b"},{"l":41,"a":83,"b":85,"k":"V"},{"l":41,"a":85,"b":92,"k":"T","n":"..y_in"},{"l":41,"a":93,"b":96,"k":"i"},{"l":41,"a":96,"b":99,"k":"T","n":".."},{"l":41,"a":99,"b":100,"k":"Z"},{"l":41,"a":110,"b":113,"k":"S","n":".."},{"l":41,"a":114,"b":115,"k":"E"},{"l":41,"a":115,"b":118,"k":"N","n":".."},{"l":41,"a":118,"b":119,"k":"e"},{"l":41,"a":119,"b":120,"k":"d"},{"l":41,"a":124,"b":125,"k":"C"},{"l":41,"a":133,"b":134,"k":"X"},{"l":41,"a":135,"b":140,"k":"d","n":".."},{"l":41,"a":140,"b":141,"k":"T"},{"l":41,"a":142,"b":145,"k":"X","n":".."},{"l":41,"a":145,"b":147,"k":"f"},{"l":41,"a":147,"b":148,"k":"T"},{"l":41,"a":148,"b":158,"k":"H","n":"..oc_impl"},{"l":41,"a":158,"b":160,"k":"T"},{"l":41,"a":163,"b":167,"k":"Y","n":".."},{"l":41,"a":170,"b":171,"k":"T"},{"l":41,"a":172,"b":173,"k":"P"},{"l":41,"a":174,"b":175,"k":"f"},{"l":41,"a":179,"b":180,"k":"h"},{"l":41,"a":180,"b":181,"k":"X"},{"l":41,"a":185,"b":187,"k":"m"},{"l":41,"a":187,"b":189,"k":"K"},{"l":41,"a":190,"b":191,"k":"f"},{"l":41,"a":191,"b":192,"k":"T"},{"l":41,"a":197,"b":200,"k":"K","n":".."},{"l":41,"a":200,"b":201,"k":"O"},{"l":41,"a":201,"b":205,"k":"S","n":".."},{"l":41,"a":205,"b":210,"k":"N","n":"..d"},{"l":41,"a":210,"b":214,"k":"H","n":".."},{"l":41,"a":214,"b":215,"k":"M"},{"l":41,"a":215,"b":216,"k":"L"},{"l":41,"a":216,"b":217,"k":"T"},{"l":41,"a":218,"b":219,"k":"Y"},{"l":41,"a":221,"b":222,"k":"E"},{"l":41,"a":222,"b":223,"k":"O"},{"l":41,"a":223,"b":224,"k":"E"},{"l":41,"a":224,"b":225,"k":"W"},{"l":41,"a":227,"b":228,"k":"Z"},{"l":41,"a":235,"b":237,"k":"b"},{"l":41,"a":240,"b":241,"k":"d"},{"l":41,"a":241,"b":242,"k":"Y"},{"l":41,"a":244,"b":245,"k":"O"},{"l":41,"a":252,"b":253,"k":"I"},{"l":41,"a":254,"b":255,"k":"M"},{"l":41,"a":264,"b":266,"k":"Y"},{"l":41,"a":282,"b":283,"k":"L"},{"l":41,"a":291,"b":292,"k":"f"},{"l":41,"a":306,"b":307,"k":"d"},{"l":41,"a":307,"b":308,"k":"N"},{"l":41,"a":310,"b":311,"k":"O"},{"l":41,"a":312,"b":314,"k":"S"},{"l":41,"a":314,"b":315,"k":"L"},{"l":41,"a":331,"b":332,"k":"R"},
{"l":42,"a":6,"b":8,"k":"M"},{"l":42,"a":8,"b":11,"k":"S","n":".."},{"l":42,"a":11,"b":13,"k":"E"},{"l":42,"a":14,"b":15,"k":"U"},{"l":42,"a":15,"b":16,"k":"O"},{"l":42,"a":16,"b":21,"k":"Y","n":"..e"},{"l":42,"a":21,"b":22,"k":"O"},{"l":42,"a":22,"b":23,"k":"E"},{"l":42,"a":27,"b":29,"k":"N"},{"l":42,"a":29,"b":30,"k":"T"},{"l":42,"a":37,"b":38,"k":"K"},{"l":42,"a":38,"b":39,"k":"X"},{"l":42,"a":41,"b":42,"k":"g"},{"l":42,"a":42,"b":46,"k":"m","n":".."},{"l":42,"a":46,"b":54,"k":"b","n":"..table"},{"l":42,"a":54,"b":55,"k":"e"},{"l":42,"a":83,"b":85,"k":"V"},{"l":42,"a":85,"b":92,"k":"W","n":"..y_in"},{"l":42,"a":94,"b":95,"k":"L"},{"l":42,"a":96,"b":99,"k":"b","n":".."},{"l":42,"a":99,"b":100,"k":"d"},{"l":42,"a":110,"b":111,"k":"b"},{"l":42,"a":111,"b":113,"k":"O"},{"l":42,"a":116,"b":119,"k":"C","n":".."},{"l":42,"a":119,"b":120,"k":"d"},{"l":42,"a":123,"b":124,"k":"O"},{"l":42,"a":133,"b":134,"k":"L"},{"l":42,"a":135,"b":140,"k":"Y","n":".."},{"l":42,"a":140,"b":141,"k":"X"},{"l":42,"a":142,"b":145,"k":"E","n":".."},{"l":42,"a":146,"b":147,"k":"F"},{"l":42,"a":147,"b":148,"k":"b"},{"l":42,"a":148,"b":158,"k":"b","n":"..::alloc"},{"l":42,"a":158,"b":160,"k":"h"},{"l":42,"a":162,"b":163,"k":"I"},{"l":42,"a":163,"b":166,"k":"L","n":".."},{"l":42,"a":166,"b":167,"k":"U"},{"l":42,"a":170,"b":171,"k":"U"},{"l":42,"a":172,"b":173,"k":"d"},{"l":42,"a":174,"b":175,"k":"b"},{"l":42,"a":185,"b":186,"k":"b"},{"l":42,"a":190,"b":191,"k":"m"},{"l":42,"a":191,"b":192,"k":"X"},{"l":42,"a":197,"b":200,"k":"Z","n":".."},{"l":42,"a":201,"b":205,"k":"V","n":".."},{"l":42,"a":205,"b":210,"k":"f","n":"..d"},{"l":42,"a":210,"b":214,"k":"O","n":".."},{"l":42,"a":214,"b":215,"k":"C"},{"l":42,"a":215,"b":216,"k":"X"},{"l":42,"a":216,"b":217,"k":"Z"},{"l":42,"a":218,"b":219,"k":"h"},{"l":42,"a":221,"b":222,"k":"e"},{"l":42,"a":222,"b":223,"k":"O"},{"l":42,"a":223,"b":224,"k":"I"},{"l":42,"a":224,"b":225,"k":"X"},{"l":42,"a":227,"b":228,"k":"U"},{"l":42,"a":235,"b":236,"k":"U"},{"l":42,"a":236,"b":237,"k":"K"},{"l":42,"a":241,"b":242,"k":"T"},{"l":42,"a":244,"b":245,"k":"U"},{"l":42,"a":252,"b":253,"k":"O"},{"l":42,"a":254,"b":255,"k":"X"},{"l":42,"a":291,"b":292,"k":"K"},{"l":42,"a":306,"b":307,"k":"K"},{"l":42,"a":307,"b":308,"k":"Y"},{"l":42,"a":310,"b":311,"k":"Z"},{"l":42,"a":312,"b":314,"k":"I"},{"l":42,"a":314,"b":315,"k":"N"},
{"l":43,"a":6,"b":8,"k":"O"},{"l":43,"a":8,"b":11,"k":"f","n":".."},{"l":43,"a":11,"b":13,"k":"d"},{"l":43,"a":14,"b":15,"k":"O"},{"l":43,"a":15,"b":16,"k":"b"},{"l":43,"a":16,"b":21,"k":"U","n":"..e"},{"l":43,"a":21,"b":22,"k":"L"},{"l":43,"a":27,"b":29,"k":"T"},{"l":43,"a":37,"b":38,"k":"d"},{"l":43,"a":38,"b":39,"k":"T"},{"l":43,"a":42,"b":46,"k":"X","n":".."},{"l":43,"a":46,"b":54,"k":"K","n":"..ments"},{"l":43,"a":83,"b":85,"k":"O"},{"l":43,"a":85,"b":92,"k":"i","n":"..e_in"},{"l":43,"a":94,"b":95,"k":"O"},{"l":43,"a":96,"b":99,"k":"d","n":".."},{"l":43,"a":110,"b":111,"k":"f"},{"l":43,"a":111,"b":113,"k":"X"},{"l":43,"a":116,"b":119,"k":"U"},{"l":43,"a":119,"b":120,"k":"d"},{"l":43,"a":120,"b":121,"k":"U"},{"l":43,"a":123,"b":124,"k":"S"},{"l":43,"a":133,"b":134,"k":"O"},{"l":43,"a":135,"b":136,"k":"Y"},{"l":43,"a":136,"b":140,"k":"V","n":".."},{"l":43,"a":142,"b":146,"k":"K","n":".."},{"l":43,"a":147,"b":158,"k":"f","n":"malloc"},{"l":43,"a":158,"b":160,"k":"Y"},{"l":43,"a":162,"b":163,"k":"K"},{"l":43,"a":164,"b":165,"k":"W"},{"l":43,"a":165,"b":166,"k":"U"},{"l":43,"a":166,"b":167,"k":"b"},{"l":43,"a":170,"b":171,"k":"e"},{"l":43,"a":172,"b":173,"k":"U"},{"l":43,"a":174,"b":175,"k":"R"},{"l":43,"a":185,"b":186,"k":"Y"},{"l":43,"a":190,"b":191,"k":"X"},{"l":43,"a":191,"b":192,"k":"U"},{"l":43,"a":197,"b":200,"k":"X","n":".."},{"l":43,"a":201,"b":205,"k":"S","n":".."},{"l":43,"a":205,"b":210,"k":"U","n":"..c"},{"l":43,"a":210,"b":214,"k":"U","n":".."},{"l":43,"a":214,"b":215,"k":"L"},{"l":43,"a":215,"b":216,"k":"b"},{"l":43,"a":216,"b":217,"k":"I"},{"l":43,"a":218,"b":219,"k":"K"},{"l":43,"a":221,"b":223,"k":"U"},{"l":43,"a":224,"b":225,"k":"T"},{"l":43,"a":227,"b":228,"k":"O"},{"l":43,"a":235,"b":236,"k":"f"},{"l":43,"a":241,"b":242,"k":"Z"},{"l":43,"a":244,"b":245,"k":"I"},{"l":43,"a":252,"b":253,"k":"I"},{"l":43,"a":307,"b":308,"k":"Y"},{"l":43,"a":310,"b":311,"k":"T"},{"l":43,"a":312,"b":314,"k":"I"},{"l":43,"a":314,"b":315,"k":"N"},
{"l":44,"a":6,"b":8,"k":"E"},{"l":44,"a":8,"b":11,"k":"Z","n":".."},{"l":44,"a":11,"b":13,"k":"K"},{"l":44,"a":14,"b":15,"k":"T"},{"l":44,"a":15,"b":16,"k":"O"},{"l":44,"a":18,"b":21,"k":"e","n":".."},{"l":44,"a":27,"b":29,"k":"Y"},{"l":44,"a":37,"b":38,"k":"O"},{"l":44,"a":38,"b":39,"k":"e"},{"l":44,"a":42,"b":46,"k":"Y","n":".."},{"l":44,"a":46,"b":50,"k":"M","n":"..rop"},{"l":44,"a":50,"b":54,"k":"X"},{"l":44,"a":83,"b":85,"k":"b"},{"l":44,"a":85,"b":92,"k":"d","n":"..cate"},{"l":44,"a":94,"b":95,"k":"L"},{"l":44,"a":96,"b":97,"k":"R"},{"l":44,"a":97,"b":99,"k":"N"},{"l":44,"a":110,"b":111,"k":"d"},{"l":44,"a":111,"b":113,"k":"Y"},{"l":44,"a":116,"b":118,"k":"T"},{"l":44,"a":118,"b":119,"k":"L"},{"l":44,"a":123,"b":124,"k":"S"},{"l":44,"a":133,"b":134,"k":"R"},{"l":44,"a":135,"b":136,"k":"Z"},{"l":44,"a":136,"b":140,"k":"X","n":".."},{"l":44,"a":142,"b":146,"k":"d","n":".."},{"l":44,"a":147,"b":148,"k":"O"},{"l":44,"a":149,"b":158,"k":"e","n":"...so.6]"},{"l":44,"a":158,"b":160,"k":"M"},{"l":44,"a":162,"b":163,"k":"e"},{"l":44,"a":164,"b":165,"k":"T"},{"l":44,"a":170,"b":171,"k":"X"},{"l":44,"a":172,"b":173,"k":"S"},{"l":44,"a":174,"b":175,"k":"I"},{"l":44,"a":185,"b":186,"k":"C"},{"l":44,"a":190,"b":191,"k":"M"},{"l":44,"a":197,"b":200,"k":"f","n":".."},{"l":44,"a":202,"b":205,"k":"P","n":".."},{"l":44,"a":205,"b":210,"k":"C","n":"..e"},{"l":44,"a":210,"b":214,"k":"d","n":".."},{"l":44,"a":214,"b":215,"k":"Q"},{"l":44,"a":215,"b":216,"k":"a"},{"l":44,"a":216,"b":217,"k":"N"},{"l":44,"a":218,"b":219,"k":"d"},{"l":44,"a":224,"b":225,"k":"d"},{"l":44,"a":227,"b":228,"k":"I"},{"l":44,"a":235,"b":236,"k":"S"},{"l":44,"a":241,"b":242,"k":"Y"},{"l":44,"a":244,"b":245,"k":"I"},{"l":44,"a":252,"b":253,"k":"P"},{"l":44,"a":307,"b":308,"k":"E"},{"l":44,"a":310,"b":311,"k":"Q"},{"l":44,"a":312,"b":314,"k":"O"},{"l":44,"a":314,"b":315,"k":"m"},
{"l":45,"a":6,"b":8,"k":"C"},{"l":45,"a":8,"b":11,"k":"S","n":".."},{"l":45,"a":11,"b":13,"k":"f"},{"l":45,"a":14,"b":15,"k":"F"},{"l":45,"a":15,"b":16,"k":"G"},{"l":45,"a":18,"b":21,"k":"U","n":".."},{"l":45,"a":28,"b":29,"k":"f"},{"l":45,"a":37,"b":38,"k":"F"},{"l":45,"a":38,"b":39,"k":"m"},{"l":45,"a":42,"b":46,"k":"R","n":".."},{"l":45,"a":46,"b":50,"k":"L","n":"..ace"},{"l":45,"a":50,"b":54,"k":"E"},{"l":45,"a":83,"b":85,"k":"f"},{"l":45,"a":85,"b":92,"k":"f","n":"..impl"},{"l":45,"a":94,"b":95,"k":"O"},{"l":45,"a":97,"b":99,"k":"L"},{"l":45,"a":110,"b":111,"k":"V"},{"l":45,"a":111,"b":112,"k":"L"},{"l":45,"a":112,"b":113,"k":"d"},{"l":45,"a":116,"b":118,"k":"O"},{"l":45,"a":118,"b":119,"k":"Y"},{"l":45,"a":123,"b":124,"k":"d"},{"l":45,"a":133,"b":134,"k":"M"},{"l":45,"a":135,"b":136,"k":"V"},{"l":45,"a":136,"b":140,"k":"d","n":".."},{"l":45,"a":142,"b":146,"k":"f","n":".."},{"l":45,"a":149,"b":158,"k":"L","n":".._fault"},{"l":45,"a":158,"b":160,"k":"C"},{"l":45,"a":162,"b":163,"k":"m"},{"l":45,"a":164,"b":165,"k":"O"},{"l":45,"a":170,"b":171,"k":"h"},{"l":45,"a":172,"b":173,"k":"E"},{"l":45,"a":185,"b":186,"k":"f"},{"l":45,"a":190,"b":191,"k":"K"},{"l":45,"a":197,"b":200,"k":"d","n":".."},{"l":45,"a":200,"b":201,"k":"L"},{"l":45,"a":202,"b":204,"k":"T"},{"l":45,"a":205,"b":210,"k":"L","n":"..l"},{"l":45,"a":210,"b":214,"k":"S","n":".."},{"l":45,"a":214,"b":215,"k":"E"},{"l":45,"a":215,"b":216,"k":"b"},{"l":45,"a":216,"b":217,"k":"V"},{"l":45,"a":218,"b":219,"k":"W"},{"l":45,"a":224,"b":225,"k":"a"},{"l":45,"a":227,"b":228,"k":"e"},{"l":45,"a":235,"b":236,"k":"M"},{"l":45,"a":241,"b":242,"k":"Y"},{"l":45,"a":244,"b":245,"k":"O"},{"l":45,"a":252,"b":253,"k":"T"},{"l":45,"a":307,"b":308,"k":"T"},{"l":45,"a":314,"b":315,"k":"T"},
{"l":46,"a":6,"b":8,"k":"Z"},{"l":46,"a":8,"b":11,"k":"d","n":".."},{"l":46,"a":11,"b":13,"k":"P"},{"l":46,"a":14,"b":15,"k":"U"},{"l":46,"a":15,"b":16,"k":"Y"},{"l":46,"a":18,"b":21,"k":"g","n":".."},{"l":46,"a":37,"b":38,"k":"O"},{"l":46,"a":38,"b":39,"k":"M"},{"l":46,"a":45,"b":46,"k":"E"},{"l":46,"a":46,"b":50,"k":"W","n":"..g)>"},{"l":46,"a":50,"b":54,"k":"Z"},{"l":46,"a":83,"b":85,"k":"O"},{"l":46,"a":85,"b":92,"k":"N","n":"..lloc"},{"l":46,"a":94,"b":95,"k":"a"},{"l":46,"a":97,"b":99,"k":"O"},{"l":46,"a":110,"b":111,"k":"X"},{"l":46,"a":111,"b":113,"k":"C"},{"l":46,"a":116,"b":118,"k":"h"},{"l":46,"a":118,"b":119,"k":"d"},{"l":46,"a":123,"b":124,"k":"W"},{"l":46,"a":133,"b":134,"k":"Q"},{"l":46,"a":135,"b":136,"k":"T"},{"l":46,"a":136,"b":140,"k":"e","n":".."},{"l":46,"a":142,"b":146,"k":"H","n":".."},{"l":46,"a":149,"b":158,"k":"V","n":".._fault"},{"l":46,"a":158,"b":160,"k":"K"},{"l":46,"a":162,"b":163,"k":"f"},{"l":46,"a":172,"b":173,"k":"X"},{"l":46,"a":185,"b":186,"k":"V"},{"l":46,"a":197,"b":200,"k":"K","n":".."},{"l":46,"a":200,"b":201,"k":"M"},{"l":46,"a":202,"b":204,"k":"e"},{"l":46,"a":205,"b":210,"k":"T","n":"..c"},{"l":46,"a":210,"b":214,"k":"U","n":".."},{"l":46,"a":214,"b":215,"k":"d"},{"l":46,"a":215,"b":216,"k":"V"},{"l":46,"a":216,"b":217,"k":"L"},{"l":46,"a":224,"b":225,"k":"d"},{"l":46,"a":241,"b":242,"k":"I"},{"l":46,"a":244,"b":245,"k":"f"},{"l":46,"a":252,"b":253,"k":"K"},
{"l":47,"a":6,"b":8,"k":"U"},{"l":47,"a":8,"b":11,"k":"T","n":".."},{"l":47,"a":12,"b":13,"k":"d"},{"l":47,"a":14,"b":15,"k":"h"},{"l":47,"a":15,"b":16,"k":"Z"},{"l":47,"a":18,"b":21,"k":"U","n":".."},{"l":47,"a":38,"b":39,"k":"E"},{"l":47,"a":46,"b":50,"k":"V","n":"..ng>"},{"l":47,"a":50,"b":54,"k":"f"},{"l":47,"a":83,"b":92,"k":"f","n":"malloc"},{"l":47,"a":94,"b":95,"k":"X"},{"l":47,"a":97,"b":98,"k":"C"},{"l":47,"a":98,"b":99,"k":"O"},{"l":47,"a":110,"b":111,"k":"X"},{"l":47,"a":116,"b":118,"k":"h"},{"l":47,"a":118,"b":119,"k":"W"},{"l":47,"a":123,"b":124,"k":"P"},{"l":47,"a":133,"b":134,"k":"X"},{"l":47,"a":135,"b":136,"k":"W"},{"l":47,"a":137,"b":140,"k":"N","n":".."},{"l":47,"a":142,"b":146,"k":"W","n":".."},{"l":47,"a":149,"b":158,"k":"U","n":".._fault"},{"l":47,"a":158,"b":159,"k":"Z"},{"l":47,"a":159,"b":160,"k":"N"},{"l":47,"a":162,"b":163,"k":"K"},{"l":47,"a":172,"b":173,"k":"T"},{"l":47,"a":185,"b":186,"k":"b"},{"l":47,"a":197,"b":200,"k":"K","n":".."},{"l":47,"a":200,"b":201,"k":"g"},{"l":47,"a":202,"b":204,"k":"m"},{"l":47,"a":205,"b":210,"k":"C","n":"..c"},{"l":47,"a":210,"b":213,"k":"V","n":".."},{"l":47,"a":213,"b":214,"k":"d"},{"l":47,"a":215,"b":216,"k":"b"},{"l":47,"a":216,"b":217,"k":"N"},{"l":47,"a":224,"b":225,"k":"b"},{"l":47,"a":241,"b":242,"k":"f"},{"l":47,"a":252,"b":253,"k":"T"},
{"l":48,"a":6,"b":8,"k":"Y"},{"l":48,"a":8,"b":11,"k":"N","n":".."},{"l":48,"a":12,"b":13,"k":"e"},{"l":48,"a":14,"b":15,"k":"S"},{"l":48,"a":15,"b":16,"k":"f"},{"l":48,"a":18,"b":21,"k":"R","n":".."},{"l":48,"a":38,"b":39,"k":"h"},{"l":48,"a":46,"b":50,"k":"d","n":"..8>>"},{"l":48,"a":50,"b":54,"k":"H"},{"l":48,"a":83,"b":85,"k":"X"},{"l":48,"a":86,"b":92,"k":"E","n":"...6]"},{"l":48,"a":94,"b":95,"k":"K"},{"l":48,"a":98,"b":99,"k":"b"},{"l":48,"a":110,"b":111,"k":"U"},{"l":48,"a":116,"b":118,"k":"V"},{"l":48,"a":118,"b":119,"k":"M"},{"l":48,"a":123,"b":124,"k":"H"},{"l":48,"a":133,"b":134,"k":"T"},{"l":48,"a":135,"b":136,"k":"V"},{"l":48,"a":139,"b":140,"k":"O"},{"l":48,"a":142,"b":146,"k":"K","n":".."},{"l":48,"a":149,"b":158,"k":"Z","n":".._fault"},{"l":48,"a":158,"b":159,"k":"b"},{"l":48,"a":159,"b":160,"k":"X"},{"l":48,"a":162,"b":163,"k":"G"},{"l":48,"a":172,"b":173,"k":"m"},{"l":48,"a":185,"b":186,"k":"G"},{"l":48,"a":197,"b":200,"k":"Q","n":".."},{"l":48,"a":200,"b":201,"k":"X"},{"l":48,"a":202,"b":204,"k":"R"},{"l":48,"a":206,"b":210,"k":"I","n":".."},{"l":48,"a":210,"b":212,"k":"a"},{"l":48,"a":212,"b":213,"k":"T"},{"l":48,"a":215,"b":216,"k":"O"},{"l":48,"a":216,"b":217,"k":"J"},{"l":48,"a":224,"b":225,"k":"E"},{"l":48,"a":241,"b":242,"k":"e"},
{"l":49,"a":6,"b":8,"k":"d"},{"l":49,"a":10,"b":11,"k":"O"},{"l":49,"a":12,"b":13,"k":"P"},{"l":49,"a":14,"b":15,"k":"m"},{"l":49,"a":15,"b":16,"k":"N"},{"l":49,"a":18,"b":21,"k":"L","n":".."},{"l":49,"a":38,"b":39,"k":"b"},{"l":49,"a":46,"b":52,"k":"b","n":"..8>>"},{"l":49,"a":83,"b":85,"k":"X"},{"l":49,"a":87,"b":92,"k":"d","n":"..t"},{"l":49,"a":94,"b":95,"k":"Y"},{"l":49,"a":98,"b":99,"k":"L"},{"l":49,"a":116,"b":118,"k":"f"},{"l":49,"a":118,"b":119,"k":"M"},{"l":49,"a":123,"b":124,"k":"U"},{"l":49,"a":133,"b":134,"k":"e"},{"l":49,"a":135,"b":136,"k":"d"},{"l":49,"a":139,"b":140,"k":"L"},{"l":49,"a":142,"b":146,"k":"F","n":".."},{"l":49,"a":149,"b":158,"k":"A","n":".._fault"},{"l":49,"a":159,"b":160,"k":"Y"},{"l":49,"a":172,"b":173,"k":"m"},{"l":49,"a":185,"b":186,"k":"O"},{"l":49,"a":197,"b":200,"k":"V","n":".."},{"l":49,"a":200,"b":201,"k":"O"},{"l":49,"a":202,"b":204,"k":"f"},{"l":49,"a":206,"b":209,"k":"C","n":".."},{"l":49,"a":209,"b":211,"k":"I"},{"l":49,"a":215,"b":216,"k":"Y"},{"l":49,"a":216,"b":217,"k":"P"},{"l":49,"a":224,"b":225,"k":"X"},{"l":49,"a":241,"b":242,"k":"L"},
{"l":50,"a":6,"b":7,"k":"U"},{"l":50,"a":7,"b":8,"k":"H"},{"l":50,"a":10,"b":11,"k":"f"},{"l":50,"a":12,"b":13,"k":"g"},{"l":50,"a":14,"b":15,"k":"Q"},{"l":50,"a":15,"b":16,"k":"E"},{"l":50,"a":18,"b":21,"k":"b","n":".."},{"l":50,"a":38,"b":39,"k":"H"},{"l":50,"a":46,"b":52,"k":"H","n":"..rop"},{"l":50,"a":83,"b":85,"k":"C"},{"l":50,"a":87,"b":92,"k":"h","n":"..t"},{"l":50,"a":94,"b":95,"k":"M"},{"l":50,"a":98,"b":99,"k":"f"},{"l":50,"a":116,"b":118,"k":"G"},{"l":50,"a":118,"b":119,"k":"N"},{"l":50,"a":133,"b":134,"k":"H"},{"l":50,"a":135,"b":136,"k":"h"},{"l":50,"a":139,"b":140,"k":"I"},{"l":50,"a":142,"b":146,"k":"U","n":".."},{"l":50,"a":150,"b":158,"k":"C","n":".._page"},{"l":50,"a":159,"b":160,"k":"Z"},{"l":50,"a":185,"b":186,"k":"Q"},{"l":50,"a":197,"b":200,"k":"a","n":".."},{"l":50,"a":200,"b":201,"k":"h"},{"l":50,"a":202,"b":204,"k":"O"},{"l":50,"a":206,"b":209,"k":"W","n":".."},{"l":50,"a":209,"b":210,"k":"Z"},{"l":50,"a":210,"b":212,"k":"T"},{"l":50,"a":215,"b":216,"k":"m"},{"l":50,"a":216,"b":217,"k":"M"},{"l":50,"a":224,"b":225,"k":"K"},{"l":50,"a":241,"b":242,"k":"U"},
{"l":51,"a":6,"b":7,"k":"T"},{"l":51,"a":7,"b":8,"k":"Q"},{"l":51,"a":10,"b":11,"k":"d"},{"l":51,"a":12,"b":13,"k":"L"},{"l":51,"a":14,"b":15,"k":"g"},{"l":51,"a":18,"b":21,"k":"E","n":".."},{"l":51,"a":38,"b":39,"k":"K"},{"l":51,"a":46,"b":50,"k":"E","n":".."},{"l":51,"a":50,"b":52,"k":"W"},{"l":51,"a":83,"b":84,"k":"N"},{"l":51,"a":84,"b":85,"k":"K"},{"l":51,"a":87,"b":92,"k":"V","n":"..t"},{"l":51,"a":94,"b":95,"k":"H"},{"l":51,"a":98,"b":99,"k":"Y"},{"l":51,"a":118,"b":119,"k":"X"},{"l":51,"a":133,"b":134,"k":"Z"},{"l":51,"a":135,"b":136,"k":"H"},{"l":51,"a":139,"b":140,"k":"V"},{"l":51,"a":142,"b":146,"k":"b","n":".."},{"l":51,"a":150,"b":151,"k":"T"},{"l":51,"a":151,"b":152,"k":"Y"},{"l":51,"a":152,"b":153,"k":"O"},{"l":51,"a":153,"b":158,"k":"P","n":"..o"},{"l":51,"a":159,"b":160,"k":"W"},{"l":51,"a":198,"b":200,"k":"e"},{"l":51,"a":200,"b":201,"k":"b"},{"l":51,"a":202,"b":204,"k":"c"},{"l":51,"a":206,"b":209,"k":"O","n":".."},{"l":51,"a":209,"b":210,"k":"N"},{"l":51,"a":210,"b":211,"k":"G"},{"l":51,"a":211,"b":212,"k":"Z"},{"l":51,"a":215,"b":216,"k":"W"},{"l":51,"a":216,"b":217,"k":"f"},{"l":51,"a":241,"b":242,"k":"C"},
{"l":52,"a":6,"b":7,"k":"E"},{"l":52,"a":7,"b":8,"k":"L"},{"l":52,"a":10,"b":11,"k":"O"},{"l":52,"a":12,"b":13,"k":"T"},{"l":52,"a":14,"b":15,"k":"N"},{"l":52,"a":18,"b":21,"k":"L","n":".."},{"l":52,"a":38,"b":39,"k":"G"},{"l":52,"a":46,"b":50,"k":"J","n":".."},{"l":52,"a":87,"b":92,"k":"Y","n":"..t"},{"l":52,"a":98,"b":99,"k":"S"},{"l":52,"a":118,"b":119,"k":"f"},{"l":52,"a":135,"b":136,"k":"L"},{"l":52,"a":139,"b":140,"k":"G"},{"l":52,"a":143,"b":146,"k":"H","n":".."},{"l":52,"a":150,"b":151,"k":"X"},{"l":52,"a":151,"b":152,"k":"M"},{"l":52,"a":154,"b":158,"k":"P","n":".."},{"l":52,"a":198,"b":200,"k":"T"},{"l":52,"a":202,"b":204,"k":"d"},{"l":52,"a":205,"b":207,"k":"T"},{"l":52,"a":207,"b":209,"k":"V"},{"l":52,"a":210,"b":211,"k":"a"},{"l":52,"a":211,"b":212,"k":"U"},{"l":52,"a":216,"b":217,"k":"F"},{"l":52,"a":241,"b":242,"k":"P"},
{"l":53,"a":6,"b":7,"k":"b"},{"l":53,"a":7,"b":8,"k":"O"},{"l":53,"a":10,"b":11,"k":"Q"},{"l":53,"a":12,"b":13,"k":"f"},{"l":53,"a":14,"b":15,"k":"d"},{"l":53,"a":18,"b":21,"k":"c","n":".."},{"l":53,"a":38,"b":39,"k":"W"},{"l":53,"a":46,"b":50,"k":"E","n":".."},{"l":53,"a":87,"b":92,"k":"K","n":"..t"},{"l":53,"a":98,"b":99,"k":"R"},{"l":53,"a":118,"b":119,"k":"A"},{"l":53,"a":139,"b":140,"k":"R"},{"l":53,"a":143,"b":146,"k":"V"},{"l":53,"a":150,"b":151,"k":"W"},{"l":53,"a":154,"b":158,"k":"R","n":".."},{"l":53,"a":198,"b":200,"k":"R"},{"l":53,"a":202,"b":204,"k":"M"},{"l":53,"a":207,"b":209,"k":"K"},{"l":53,"a":216,"b":217,"k":"Z"},{"l":53,"a":241,"b":242,"k":"L"},
{"l":54,"a":6,"b":7,"k":"T"},{"l":54,"a":7,"b":8,"k":"Y"},{"l":54,"a":10,"b":11,"k":"K"},{"l":54,"a":14,"b":15,"k":"Q"},{"l":54,"a":18,"b":19,"k":"M"},{"l":54,"a":19,"b":21,"k":"h"},{"l":54,"a":47,"b":50,"k":"b","n":".."},{"l":54,"a":89,"b":92,"k":"E","n":".."},{"l":54,"a":118,"b":119,"k":"O"},{"l":54,"a":139,"b":140,"k":"S"},{"l":54,"a":144,"b":146,"k":"T"},{"l":54,"a":155,"b":158,"k":"K","n":".."},{"l":54,"a":198,"b":200,"k":"F"},{"l":54,"a":203,"b":204,"k":"f"},{"l":54,"a":207,"b":209,"k":"K"},{"l":54,"a":216,"b":217,"k":"b"},{"l":54,"a":241,"b":242,"k":"N"},
{"l":55,"a":6,"b":7,"k":"W"},{"l":55,"a":7,"b":8,"k":"b"},{"l":55,"a":10,"b":11,"k":"H"},{"l":55,"a":19,"b":21,"k":"f"},{"l":55,"a":90,"b":91,"k":"O"},{"l":55,"a":91,"b":92,"k":"X"},{"l":55,"a":118,"b":119,"k":"N"},{"l":55,"a":139,"b":140,"k":"N"},{"l":55,"a":144,"b":146,"k":"h"},{"l":55,"a":155,"b":158,"k":"d","n":".."},{"l":55,"a":198,"b":200,"k":"C"},{"l":55,"a":202,"b":203,"k":"Z"},{"l":55,"a":203,"b":204,"k":"d"},{"l":55,"a":207,"b":208,"k":"G"},{"l":55,"a":208,"b":209,"k":"Q"},{"l":55,"a":216,"b":217,"k":"L"},{"l":55,"a":241,"b":242,"k":"W"},
{"l":56,"a":7,"b":8,"k":"g"},{"l":56,"a":10,"b":11,"k":"d"},{"l":56,"a":19,"b":21,"k":"I"},{"l":56,"a":91,"b":92,"k":"d"},{"l":56,"a":118,"b":119,"k":"T"},{"l":56,"a":139,"b":140,"k":"L"},{"l":56,"a":144,"b":146,"k":"b"},{"l":56,"a":157,"b":158,"k":"K"},{"l":56,"a":198,"b":200,"k":"K"},{"l":56,"a":203,"b":204,"k":"O"},{"l":56,"a":207,"b":208,"k":"X"},{"l":56,"a":208,"b":209,"k":"Z"},
{"l":57,"a":7,"b":8,"k":"F"},{"l":57,"a":10,"b":11,"k":"J"},{"l":57,"a":19,"b":21,"k":"e"},{"l":57,"a":91,"b":92,"k":"Z"},{"l":57,"a":118,"b":119,"k":"H"},{"l":57,"a":139,"b":140,"k":"U"},{"l":57,"a":144,"b":146,"k":"P"},{"l":57,"a":157,"b":158,"k":"f"},{"l":57,"a":198,"b":200,"k":"V"},{"l":57,"a":203,"b":204,"k":"X"},{"l":57,"a":207,"b":208,"k":"b"},{"l":57,"a":208,"b":209,"k":"O"},
{"l":58,"a":7,"b":8,"k":"W"},{"l":58,"a":10,"b":11,"k":"Z"},{"l":58,"a":19,"b":21,"k":"C"},{"l":58,"a":91,"b":92,"k":"V"},{"l":58,"a":118,"b":119,"k":"f"},{"l":58,"a":139,"b":140,"k":"f"},{"l":58,"a":144,"b":146,"k":"L"},{"l":58,"a":157,"b":158,"k":"N"},{"l":58,"a":198,"b":200,"k":"I"},{"l":58,"a":203,"b":204,"k":"K"},{"l":58,"a":208,"b":209,"k":"M"},
{"l":59,"a":7,"b":8,"k":"m"},{"l":59,"a":10,"b":11,"k":"M"},{"l":59,"a":19,"b":20,"k":"f"},{"l":59,"a":20,"b":21,"k":"N"},{"l":59,"a":91,"b":92,"k":"G"},{"l":59,"a":118,"b":119,"k":"X"},{"l":59,"a":144,"b":145,"k":"X"},{"l":59,"a":145,"b":146,"k":"E"},{"l":59,"a":157,"b":158,"k":"F"},{"l":59,"a":198,"b":200,"k":"L"},{"l":59,"a":203,"b":204,"k":"H"},{"l":59,"a":208,"b":209,"k":"X"},
{"l":60,"a":7,"b":8,"k":"m"},{"l":60,"a":10,"b":11,"k":"G"},{"l":60,"a":19,"b":20,"k":"N"},{"l":60,"a":157,"b":158,"k":"m"},{"l":60,"a":199,"b":200,"k":"S"},
{"l":61,"a":7,"b":8,"k":"L"},{"l":61,"a":19,"b":20,"k":"S"},{"l":61,"a":157,"b":158,"k":"Y"},{"l":61,"a":199,"b":200,"k":"Q"},
{"l":62,"a":7,"b":8,"k":"L"},{"l":62,"a":19,"b":20,"k":"V"},{"l":62,"a":157,"b":158,"k":"Z"},
{"l":63,"a":7,"b":8,"k":"Y"},{"l":63,"a":19,"b":20,"k":"T"},{"l":63,"a":157,"b":158,"k":"E"},
{"l":64,"a":7,"b":8,"k":"M"},{"l":64,"a":19,"b":20,"k":"S"},{"l":64,"a":157,"b":158,"k":"K"},
{"l":65,"a":19,"b":20,"k":"T"},{"l":65,"a":157,"b":158,"k":"G"},
{"l":66,"a":19,"b":20,"k":"O"},{"l":66,"a":157,"b":158,"k":"d"},
{"l":67,"a":157,"b":158,"k":"Y"},{"l":68,"a":157,"b":158,"k":"G"},{"l":69,"a":157,"b":158,"k":"E"}
],
"page":[{"x0":-0.81,"x1":347.87,"y0":-1.28125,"y1":71.53125}],
"captions":[{"t":"Flame Graph","x":173.46,"y":70.5}],
"search":[{"t":"Search","x":347.1,"y":70.45}]},
"layer":[
{"data":{"name":"page"},"mark":{"type":"rect","fill":{"x1":1,"y1":0,"x2":1,"y2":1,"gradient":"linear","stops":[{"offset":0.05,"color":"#eeeeee"},{"offset":0.95,"color":"#eeeeb0"}]}},"encoding":{"x":{"field":"x0","type":"quantitative","axis":null,"scale":{"domain":[-0.81,347.87],"nice":false,"zero":false}},"x2":{"field":"x1"},"y":{"field":"y0","type":"quantitative","axis":null,"scale":{"domain":[-1.28125,71.53125],"nice":false,"zero":false}},"y2":{"field":"y1"}}},
{"data":{"name":"frames"},"mark":{"type":"rect","height":15,"cornerRadius":1},"encoding":{"x":{"field":"a","type":"quantitative","axis":null,"scale":{"domain":[-0.81,347.87],"nice":false,"zero":false}},"x2":{"field":"b"},"y":{"field":"l","type":"quantitative","axis":null,"scale":{"domain":[-1.28125,71.53125],"nice":false,"zero":false}},"color":{"field":"k","type":"nominal","legend":null,"scale":{"domain":["A","B","C","E","F","G","H","I","J","K","L","M","N","O","P","Q","R","S","T","U","V","W","X","Y","Z","a","b","c","d","e","f","g","h","i","m","s"],"range":["#f58c0f","#d4200c","#e2c030","#e0a418","#fcd70c","#d36f10","#ebd616","#e05f10","#ecdc30","#cfb900","#d58c15","#dc0a20","#d62a20","#fbc912","#fda820","#cc6718","#ff3c10","#e34425","#f0222e","#d43a0a","#ff1f12","#f97f1f","#dddf10","#fa5a2a","#e64030","#cf5a3a","#e61c40","#c9d42a","#d06a30","#f09020","#f4660f","#e60a0a","#c81010","#f8b010","#e0962f","#ee6a40"]}}}},
{"data":{"name":"frames"},"transform":[{"filter":"datum.n"}],"mark":{"type":"text","align":"left","baseline":"middle","dx":3,"dy":1,"font":"DejaVu Sans Mono","fontSize":11,"fill":"#000000"},"encoding":{"x":{"field":"a","type":"quantitative","axis":null,"scale":{"domain":[-0.81,347.87],"nice":false,"zero":false}},"y":{"field":"l","type":"quantitative","axis":null,"scale":{"domain":[-1.28125,71.53125],"nice":false,"zero":false}},"text":{"field":"n","type":"nominal"}}},
{"data":{"name":"captions"},"mark":{"type":"text","align":"center","baseline":"middle","font":"DejaVu Sans Mono","fontSize":16,"fill":"#000000"},"encoding":{"x":{"field":"x","type":"quantitative","axis":null,"scale":{"domain":[-0.81,347.87],"nice":false,"zero":false}},"y":{"field":"y","type":"quantitative","axis":null,"scale":{"domain":[-1.28125,71.53125],"nice":false,"zero":false}},"text":{"field":"t","type":"nominal"}}},
{"data":{"name":"search"},"mark":{"type":"text","align":"right","baseline":"middle","font":"DejaVu Sans Mono","fontSize":11,"fill":"#d6d6d6"},"encoding":{"x":{"field":"x","type":"quantitative","axis":null,"scale":{"domain":[-0.81,347.87],"nice":false,"zero":false}},"y":{"field":"y","type":"quantitative","axis":null,"scale":{"domain":[-1.28125,71.53125],"nice":false,"zero":false}},"text":{"field":"t","type":"nominal"}}}
]}
